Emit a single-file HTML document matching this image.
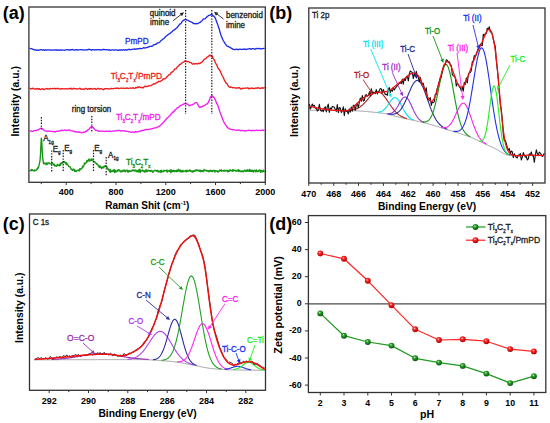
<!DOCTYPE html><html><head><meta charset="utf-8"><style>html,body{margin:0;padding:0;background:#fff;overflow:hidden}svg{display:block;font-family:"Liberation Sans",sans-serif}</style></head><body><svg width="550" height="423" viewBox="0 0 550 423"><rect width="550" height="423" fill="#fff"/>
<text x="2.8" y="18.8" font-size="18" font-weight="bold" fill="#000" text-anchor="start" >(a)</text>
<rect x="28.9" y="7" width="236.4" height="175.3" fill="none" stroke="#333333" stroke-width="1.3"/>
<line x1="41.3" y1="182.3" x2="41.3" y2="184.1" stroke="#333333" stroke-width="1"/>
<line x1="66.2" y1="182.3" x2="66.2" y2="185.1" stroke="#333333" stroke-width="1"/>
<text x="66.2" y="195.0" font-size="9" font-weight="bold" fill="#000" text-anchor="middle" >400</text>
<line x1="91.1" y1="182.3" x2="91.1" y2="184.1" stroke="#333333" stroke-width="1"/>
<line x1="116.0" y1="182.3" x2="116.0" y2="185.1" stroke="#333333" stroke-width="1"/>
<text x="116.0" y="195.0" font-size="9" font-weight="bold" fill="#000" text-anchor="middle" >800</text>
<line x1="140.9" y1="182.3" x2="140.9" y2="184.1" stroke="#333333" stroke-width="1"/>
<line x1="165.8" y1="182.3" x2="165.8" y2="185.1" stroke="#333333" stroke-width="1"/>
<text x="165.8" y="195.0" font-size="9" font-weight="bold" fill="#000" text-anchor="middle" >1200</text>
<line x1="190.6" y1="182.3" x2="190.6" y2="184.1" stroke="#333333" stroke-width="1"/>
<line x1="215.5" y1="182.3" x2="215.5" y2="185.1" stroke="#333333" stroke-width="1"/>
<text x="215.5" y="195.0" font-size="9" font-weight="bold" fill="#000" text-anchor="middle" >1600</text>
<line x1="240.4" y1="182.3" x2="240.4" y2="184.1" stroke="#333333" stroke-width="1"/>
<line x1="265.3" y1="182.3" x2="265.3" y2="185.1" stroke="#333333" stroke-width="1"/>
<text x="265.3" y="195.0" font-size="9" font-weight="bold" fill="#000" text-anchor="middle" >2000</text>
<text x="147.3" y="208.5" font-size="10" font-weight="bold" text-anchor="middle">Raman Shit (cm<tspan font-size="6" dy="-3.8">-1</tspan><tspan dy="3.8">)</tspan></text>
<text transform="translate(19.3,101.3) rotate(-90)" font-size="10.4" font-weight="bold" text-anchor="middle">Intensity (a.u.)</text>
<path d="M29.5,48.1 L30.1,48.4 L30.7,48.6 L31.3,48.7 L31.9,48.9 L32.5,49.0 L33.1,49.3 L33.7,49.8 L34.3,49.8 L34.9,49.7 L35.5,49.9 L36.1,50.2 L36.7,50.2 L37.3,50.0 L37.9,50.1 L38.5,50.3 L39.1,50.1 L39.7,49.9 L40.3,49.8 L40.9,49.7 L41.5,49.7 L42.1,49.9 L42.7,50.0 L43.3,50.0 L43.9,50.2 L44.5,50.2 L45.1,49.7 L45.7,49.7 L46.3,50.1 L46.9,50.2 L47.5,49.9 L48.1,49.8 L48.7,49.9 L49.3,49.8 L49.9,50.2 L50.5,50.1 L51.1,50.0 L51.7,50.2 L52.3,50.1 L52.9,50.0 L53.5,50.1 L54.1,50.1 L54.7,49.9 L55.3,49.9 L55.9,50.3 L56.5,50.0 L57.1,49.9 L57.7,50.2 L58.3,49.9 L58.9,50.2 L59.5,50.4 L60.1,49.9 L60.7,49.8 L61.3,50.1 L61.9,50.0 L62.5,50.1 L63.1,50.1 L63.7,50.1 L64.3,50.3 L64.9,50.1 L65.5,49.9 L66.1,49.9 L66.7,49.9 L67.3,49.7 L67.9,49.6 L68.5,49.8 L69.1,50.0 L69.7,50.2 L70.3,49.8 L70.9,49.5 L71.5,49.8 L72.1,49.6 L72.7,49.5 L73.3,49.8 L73.9,50.0 L74.5,50.1 L75.1,49.9 L75.7,49.7 L76.3,49.7 L76.9,50.0 L77.5,50.0 L78.1,49.7 L78.7,49.8 L79.3,49.8 L79.9,49.8 L80.5,49.6 L81.1,49.6 L81.7,49.7 L82.3,49.9 L82.9,50.1 L83.5,49.9 L84.1,49.9 L84.7,49.9 L85.3,49.9 L85.9,50.0 L86.5,49.9 L87.1,49.7 L87.7,49.7 L88.3,49.6 L88.9,49.2 L89.5,49.4 L90.1,49.6 L90.7,49.7 L91.3,50.2 L91.9,50.0 L92.5,49.6 L93.1,49.7 L93.7,49.9 L94.3,49.8 L94.9,49.7 L95.5,49.9 L96.1,50.0 L96.7,49.7 L97.3,49.6 L97.9,49.8 L98.5,49.6 L99.1,49.7 L99.7,49.7 L100.3,49.8 L100.9,50.0 L101.5,49.8 L102.1,49.7 L102.7,49.7 L103.3,49.5 L103.9,49.3 L104.5,49.7 L105.1,49.6 L105.7,49.7 L106.3,49.7 L106.9,49.7 L107.5,49.9 L108.1,49.9 L108.7,50.1 L109.3,49.7 L109.9,49.9 L110.5,50.4 L111.1,50.2 L111.7,49.9 L112.3,49.9 L112.9,49.8 L113.5,50.0 L114.1,50.1 L114.7,50.0 L115.3,49.9 L115.9,49.8 L116.5,49.8 L117.1,50.1 L117.7,50.3 L118.3,50.2 L118.9,50.2 L119.5,50.0 L120.1,49.9 L120.7,50.0 L121.3,50.0 L121.9,50.0 L122.5,50.0 L123.1,49.8 L123.7,49.7 L124.3,50.1 L124.9,50.1 L125.5,49.7 L126.1,49.8 L126.7,50.2 L127.3,49.8 L127.9,49.5 L128.5,49.6 L129.1,49.3 L129.7,49.5 L130.3,49.7 L130.9,49.6 L131.5,49.4 L132.1,49.4 L132.7,49.4 L133.3,49.2 L133.9,49.1 L134.5,48.8 L135.1,49.2 L135.7,49.2 L136.3,49.0 L136.9,49.0 L137.5,48.8 L138.1,48.6 L138.7,48.7 L139.3,48.7 L139.9,48.5 L140.5,48.5 L141.1,48.6 L141.7,48.6 L142.3,48.4 L142.9,48.1 L143.5,47.7 L144.1,47.9 L144.7,48.1 L145.3,47.8 L145.9,47.6 L146.5,47.6 L147.1,47.5 L147.7,47.4 L148.3,47.0 L148.9,46.9 L149.5,46.6 L150.1,46.3 L150.7,46.4 L151.3,46.2 L151.9,46.2 L152.5,46.1 L153.1,45.4 L153.7,44.7 L154.3,44.7 L154.9,44.6 L155.5,44.2 L156.1,44.3 L156.7,43.7 L157.3,43.0 L157.9,42.9 L158.5,42.9 L159.1,42.4 L159.7,42.0 L160.3,41.4 L160.9,40.7 L161.5,40.3 L162.1,39.8 L162.7,39.1 L163.3,38.8 L163.9,38.5 L164.5,37.9 L165.1,37.2 L165.7,36.5 L166.3,36.0 L166.9,35.4 L167.5,35.1 L168.1,34.6 L168.7,34.2 L169.3,33.9 L169.9,33.7 L170.5,32.9 L171.1,32.3 L171.7,32.0 L172.3,31.4 L172.9,30.8 L173.5,30.2 L174.1,30.1 L174.7,29.7 L175.3,29.1 L175.9,28.5 L176.5,28.2 L177.1,27.7 L177.7,26.7 L178.3,26.1 L178.9,25.5 L179.5,24.4 L180.1,23.8 L180.7,23.8 L181.3,23.1 L181.9,21.9 L182.5,21.0 L183.1,20.7 L183.7,20.4 L184.3,19.8 L184.9,19.5 L185.5,19.5 L186.1,19.7 L186.7,20.0 L187.3,20.2 L187.9,20.3 L188.5,20.7 L189.1,21.0 L189.7,21.4 L190.3,21.6 L190.9,21.7 L191.5,22.2 L192.1,22.3 L192.7,22.8 L193.3,23.5 L193.9,23.5 L194.5,23.6 L195.1,23.9 L195.7,23.5 L196.3,23.5 L196.9,23.9 L197.5,23.7 L198.1,23.3 L198.7,23.0 L199.3,22.7 L199.9,22.5 L200.5,22.1 L201.1,21.4 L201.7,21.0 L202.3,20.4 L202.9,19.6 L203.5,19.0 L204.1,18.9 L204.7,18.9 L205.3,18.4 L205.9,17.9 L206.5,17.3 L207.1,16.7 L207.7,16.2 L208.3,15.7 L208.9,15.4 L209.5,15.3 L210.1,15.1 L210.7,14.7 L211.3,14.4 L211.9,14.4 L212.5,15.0 L213.1,15.7 L213.7,16.1 L214.3,16.7 L214.9,17.4 L215.5,18.6 L216.1,20.3 L216.7,21.9 L217.3,23.4 L217.9,25.1 L218.5,27.0 L219.1,28.8 L219.7,30.9 L220.3,33.0 L220.9,35.0 L221.5,36.5 L222.1,37.8 L222.7,39.5 L223.3,40.6 L223.9,41.5 L224.5,42.7 L225.1,43.7 L225.7,44.4 L226.3,45.1 L226.9,46.0 L227.5,46.3 L228.1,46.4 L228.7,46.7 L229.3,47.1 L229.9,47.4 L230.5,47.5 L231.1,48.2 L231.7,48.5 L232.3,48.7 L232.9,49.3 L233.5,49.3 L234.1,49.3 L234.7,49.7 L235.3,49.6 L235.9,49.3 L236.5,49.1 L237.1,49.2 L237.7,49.6 L238.3,49.8 L238.9,49.4 L239.5,49.1 L240.1,49.1 L240.7,49.3 L241.3,49.3 L241.9,49.3 L242.5,49.4 L243.1,49.2 L243.7,49.2 L244.3,49.2 L244.9,49.2 L245.5,49.2 L246.1,49.5 L246.7,49.5 L247.3,49.2 L247.9,48.8 L248.5,48.8 L249.1,48.8 L249.7,48.5 L250.3,48.9 L250.9,49.2 L251.5,49.0 L252.1,48.6 L252.7,48.6 L253.3,48.7 L253.9,48.9 L254.5,49.3 L255.1,49.2 L255.7,48.7 L256.3,48.5 L256.9,48.6 L257.5,48.7 L258.1,48.5 L258.7,48.6 L259.3,48.5 L259.9,48.7 L260.5,49.0 L261.1,49.0 L261.7,48.7 L262.3,48.6 L262.9,48.6 L263.5,48.5 L264.1,48.4 L264.7,48.3" fill="none" stroke="#1f2ee6" stroke-width="1.35" stroke-linejoin="round" />
<path d="M29.5,88.2 L30.1,88.4 L30.7,88.8 L31.3,88.7 L31.9,89.0 L32.5,88.5 L33.1,88.1 L33.7,88.6 L34.3,89.0 L34.9,88.9 L35.5,89.0 L36.1,89.2 L36.7,88.7 L37.3,88.4 L37.9,88.9 L38.5,89.3 L39.1,88.6 L39.7,88.9 L40.3,89.5 L40.9,89.5 L41.5,89.2 L42.1,88.8 L42.7,88.6 L43.3,89.3 L43.9,89.6 L44.5,89.3 L45.1,89.2 L45.7,88.8 L46.3,88.6 L46.9,88.4 L47.5,89.1 L48.1,88.9 L48.7,88.9 L49.3,89.3 L49.9,88.7 L50.5,88.5 L51.1,88.6 L51.7,88.7 L52.3,88.7 L52.9,88.5 L53.5,88.6 L54.1,88.5 L54.7,88.3 L55.3,88.5 L55.9,89.0 L56.5,88.7 L57.1,88.4 L57.7,88.6 L58.3,88.4 L58.9,88.8 L59.5,88.9 L60.1,89.0 L60.7,89.0 L61.3,88.7 L61.9,88.8 L62.5,88.6 L63.1,88.8 L63.7,88.9 L64.3,88.9 L64.9,89.0 L65.5,88.6 L66.1,88.6 L66.7,88.8 L67.3,89.1 L67.9,88.9 L68.5,88.6 L69.1,88.5 L69.7,88.6 L70.3,88.8 L70.9,88.2 L71.5,88.5 L72.1,89.2 L72.7,88.8 L73.3,88.3 L73.9,88.5 L74.5,88.5 L75.1,88.8 L75.7,88.9 L76.3,88.6 L76.9,89.0 L77.5,88.9 L78.1,88.9 L78.7,88.9 L79.3,88.5 L79.9,88.2 L80.5,89.0 L81.1,89.4 L81.7,89.0 L82.3,89.1 L82.9,89.0 L83.5,89.1 L84.1,89.5 L84.7,89.2 L85.3,88.4 L85.9,88.4 L86.5,88.4 L87.1,88.9 L87.7,89.4 L88.3,89.0 L88.9,88.4 L89.5,88.6 L90.1,89.3 L90.7,88.6 L91.3,88.4 L91.9,88.9 L92.5,89.0 L93.1,89.0 L93.7,88.7 L94.3,88.6 L94.9,88.4 L95.5,89.1 L96.1,89.5 L96.7,89.1 L97.3,88.7 L97.9,88.3 L98.5,88.4 L99.1,88.9 L99.7,89.0 L100.3,89.0 L100.9,88.7 L101.5,88.7 L102.1,89.0 L102.7,89.3 L103.3,89.8 L103.9,89.4 L104.5,88.7 L105.1,88.7 L105.7,88.8 L106.3,88.6 L106.9,88.7 L107.5,88.6 L108.1,88.8 L108.7,89.0 L109.3,88.9 L109.9,88.9 L110.5,88.6 L111.1,88.4 L111.7,88.5 L112.3,88.6 L112.9,88.7 L113.5,88.8 L114.1,88.4 L114.7,88.4 L115.3,88.3 L115.9,88.2 L116.5,88.4 L117.1,88.0 L117.7,88.1 L118.3,88.6 L118.9,88.5 L119.5,88.4 L120.1,88.3 L120.7,88.1 L121.3,88.1 L121.9,88.2 L122.5,88.3 L123.1,88.1 L123.7,88.1 L124.3,88.4 L124.9,88.3 L125.5,88.2 L126.1,88.3 L126.7,88.0 L127.3,87.9 L127.9,88.4 L128.5,88.3 L129.1,88.3 L129.7,88.1 L130.3,87.9 L130.9,88.2 L131.5,88.3 L132.1,88.2 L132.7,87.7 L133.3,87.7 L133.9,88.4 L134.5,88.4 L135.1,88.2 L135.7,87.5 L136.3,87.6 L136.9,87.9 L137.5,87.0 L138.1,87.1 L138.7,87.3 L139.3,86.9 L139.9,87.0 L140.5,87.6 L141.1,87.6 L141.7,87.3 L142.3,87.7 L142.9,88.0 L143.5,87.4 L144.1,86.8 L144.7,86.4 L145.3,86.2 L145.9,86.5 L146.5,86.6 L147.1,86.4 L147.7,86.4 L148.3,86.0 L148.9,85.6 L149.5,85.8 L150.1,85.8 L150.7,85.7 L151.3,85.5 L151.9,85.0 L152.5,84.7 L153.1,84.4 L153.7,83.6 L154.3,83.8 L154.9,84.0 L155.5,83.6 L156.1,83.0 L156.7,82.5 L157.3,82.5 L157.9,82.1 L158.5,81.4 L159.1,81.2 L159.7,81.7 L160.3,81.6 L160.9,80.9 L161.5,80.4 L162.1,80.4 L162.7,79.4 L163.3,78.8 L163.9,79.1 L164.5,78.9 L165.1,78.7 L165.7,78.3 L166.3,77.5 L166.9,76.7 L167.5,76.3 L168.1,75.6 L168.7,74.8 L169.3,74.6 L169.9,74.6 L170.5,73.7 L171.1,72.7 L171.7,72.2 L172.3,72.0 L172.9,71.4 L173.5,70.9 L174.1,70.2 L174.7,69.2 L175.3,68.9 L175.9,68.7 L176.5,68.5 L177.1,67.4 L177.7,66.3 L178.3,66.2 L178.9,65.6 L179.5,64.5 L180.1,64.4 L180.7,64.3 L181.3,63.6 L181.9,62.9 L182.5,62.6 L183.1,62.3 L183.7,62.0 L184.3,61.5 L184.9,60.9 L185.5,61.1 L186.1,61.2 L186.7,61.4 L187.3,61.8 L187.9,61.6 L188.5,61.7 L189.1,62.0 L189.7,62.5 L190.3,62.6 L190.9,62.5 L191.5,63.1 L192.1,63.9 L192.7,64.2 L193.3,63.8 L193.9,63.5 L194.5,64.0 L195.1,64.0 L195.7,63.5 L196.3,63.6 L196.9,64.1 L197.5,63.9 L198.1,63.4 L198.7,63.2 L199.3,63.6 L199.9,63.5 L200.5,62.9 L201.1,62.6 L201.7,62.3 L202.3,61.5 L202.9,60.9 L203.5,60.2 L204.1,59.4 L204.7,58.9 L205.3,58.8 L205.9,58.6 L206.5,57.7 L207.1,57.1 L207.7,56.8 L208.3,56.6 L208.9,55.9 L209.5,55.1 L210.1,55.2 L210.7,55.9 L211.3,56.3 L211.9,56.1 L212.5,56.8 L213.1,58.3 L213.7,59.2 L214.3,59.9 L214.9,61.5 L215.5,63.0 L216.1,64.0 L216.7,64.8 L217.3,66.2 L217.9,67.9 L218.5,68.7 L219.1,69.5 L219.7,70.1 L220.3,71.2 L220.9,72.8 L221.5,74.0 L222.1,75.5 L222.7,76.6 L223.3,77.4 L223.9,78.9 L224.5,80.4 L225.1,81.4 L225.7,82.5 L226.3,83.3 L226.9,83.5 L227.5,84.5 L228.1,85.8 L228.7,86.3 L229.3,87.2 L229.9,87.4 L230.5,86.9 L231.1,87.0 L231.7,87.3 L232.3,87.6 L232.9,87.9 L233.5,87.6 L234.1,87.6 L234.7,87.8 L235.3,87.8 L235.9,88.1 L236.5,88.0 L237.1,88.0 L237.7,88.0 L238.3,87.9 L238.9,87.6 L239.5,87.7 L240.1,88.6 L240.7,89.1 L241.3,89.0 L241.9,88.7 L242.5,88.2 L243.1,88.4 L243.7,88.5 L244.3,88.2 L244.9,88.1 L245.5,88.2 L246.1,88.1 L246.7,88.1 L247.3,87.9 L247.9,87.8 L248.5,88.7 L249.1,88.7 L249.7,88.1 L250.3,88.3 L250.9,88.5 L251.5,88.1 L252.1,87.9 L252.7,88.4 L253.3,88.5 L253.9,88.3 L254.5,88.6 L255.1,88.4 L255.7,88.0 L256.3,88.0 L256.9,88.4 L257.5,88.0 L258.1,87.5 L258.7,87.8 L259.3,88.1 L259.9,88.4 L260.5,88.6 L261.1,88.0 L261.7,87.9 L262.3,88.2 L262.9,87.8 L263.5,88.0 L264.1,87.9 L264.7,87.3" fill="none" stroke="#ee1c1c" stroke-width="1.35" stroke-linejoin="round" />
<path d="M29.5,131.2 L30.1,131.0 L30.7,130.9 L31.3,131.2 L31.9,131.3 L32.5,131.4 L33.1,131.3 L33.7,130.7 L34.3,130.6 L34.9,130.6 L35.5,130.4 L36.1,130.5 L36.7,130.5 L37.3,130.0 L37.9,129.9 L38.5,129.8 L39.1,129.3 L39.7,128.8 L40.3,128.5 L40.9,128.2 L41.5,128.2 L42.1,128.5 L42.7,129.0 L43.3,129.7 L43.9,130.1 L44.5,130.5 L45.1,130.9 L45.7,131.1 L46.3,131.0 L46.9,131.2 L47.5,131.5 L48.1,131.1 L48.7,130.9 L49.3,131.0 L49.9,131.3 L50.5,131.3 L51.1,131.3 L51.7,131.4 L52.3,131.5 L52.9,131.5 L53.5,131.4 L54.1,131.6 L54.7,132.1 L55.3,131.7 L55.9,131.3 L56.5,131.2 L57.1,131.4 L57.7,131.3 L58.3,131.0 L58.9,131.1 L59.5,131.0 L60.1,130.7 L60.7,130.7 L61.3,130.4 L61.9,130.2 L62.5,130.4 L63.1,130.5 L63.7,130.5 L64.3,130.1 L64.9,130.0 L65.5,130.3 L66.1,130.5 L66.7,130.3 L67.3,130.1 L67.9,130.2 L68.5,130.2 L69.1,130.0 L69.7,130.0 L70.3,130.5 L70.9,130.8 L71.5,130.9 L72.1,130.9 L72.7,131.0 L73.3,131.1 L73.9,131.1 L74.5,131.7 L75.1,132.0 L75.7,131.7 L76.3,131.7 L76.9,131.9 L77.5,132.3 L78.1,132.2 L78.7,131.9 L79.3,132.0 L79.9,132.4 L80.5,132.5 L81.1,132.7 L81.7,132.8 L82.3,132.6 L82.9,132.3 L83.5,132.2 L84.1,132.5 L84.7,132.2 L85.3,131.6 L85.9,131.2 L86.5,131.2 L87.1,130.6 L87.7,130.0 L88.3,129.8 L88.9,129.4 L89.5,128.6 L90.1,127.8 L90.7,127.2 L91.3,126.7 L91.9,126.6 L92.5,126.7 L93.1,127.3 L93.7,128.3 L94.3,129.0 L94.9,129.6 L95.5,130.4 L96.1,130.4 L96.7,130.4 L97.3,130.5 L97.9,130.7 L98.5,131.3 L99.1,131.5 L99.7,131.2 L100.3,131.0 L100.9,131.1 L101.5,131.1 L102.1,131.3 L102.7,131.1 L103.3,131.1 L103.9,131.3 L104.5,131.4 L105.1,131.5 L105.7,131.2 L106.3,131.2 L106.9,131.4 L107.5,131.4 L108.1,131.4 L108.7,131.3 L109.3,130.9 L109.9,131.1 L110.5,131.5 L111.1,131.4 L111.7,131.3 L112.3,131.4 L112.9,131.2 L113.5,130.9 L114.1,130.9 L114.7,131.1 L115.3,130.9 L115.9,130.8 L116.5,130.9 L117.1,130.4 L117.7,130.7 L118.3,130.8 L118.9,130.4 L119.5,130.3 L120.1,130.7 L120.7,131.0 L121.3,130.8 L121.9,130.7 L122.5,130.9 L123.1,130.8 L123.7,130.9 L124.3,131.0 L124.9,131.0 L125.5,131.0 L126.1,131.2 L126.7,131.3 L127.3,131.3 L127.9,131.3 L128.5,131.7 L129.1,131.9 L129.7,131.9 L130.3,132.1 L130.9,132.1 L131.5,132.4 L132.1,132.2 L132.7,132.0 L133.3,132.1 L133.9,132.2 L134.5,132.5 L135.1,131.9 L135.7,131.4 L136.3,131.8 L136.9,132.0 L137.5,131.9 L138.1,131.6 L138.7,131.5 L139.3,131.5 L139.9,131.2 L140.5,131.2 L141.1,130.7 L141.7,130.5 L142.3,130.5 L142.9,130.4 L143.5,130.4 L144.1,130.0 L144.7,130.0 L145.3,129.9 L145.9,129.5 L146.5,129.3 L147.1,129.4 L147.7,129.6 L148.3,129.6 L148.9,129.4 L149.5,129.3 L150.1,129.2 L150.7,128.9 L151.3,128.9 L151.9,129.0 L152.5,128.7 L153.1,128.4 L153.7,128.2 L154.3,128.1 L154.9,127.8 L155.5,127.8 L156.1,127.7 L156.7,127.4 L157.3,127.1 L157.9,126.8 L158.5,126.7 L159.1,126.2 L159.7,126.0 L160.3,125.6 L160.9,125.1 L161.5,124.6 L162.1,123.7 L162.7,122.9 L163.3,122.4 L163.9,121.9 L164.5,121.2 L165.1,120.5 L165.7,119.5 L166.3,118.9 L166.9,118.2 L167.5,117.7 L168.1,117.3 L168.7,116.6 L169.3,116.1 L169.9,115.7 L170.5,114.9 L171.1,113.9 L171.7,113.4 L172.3,112.7 L172.9,112.0 L173.5,112.0 L174.1,111.3 L174.7,110.5 L175.3,109.8 L175.9,109.2 L176.5,108.7 L177.1,108.1 L177.7,107.7 L178.3,107.5 L178.9,107.0 L179.5,106.3 L180.1,105.7 L180.7,105.4 L181.3,105.3 L181.9,105.0 L182.5,104.7 L183.1,104.6 L183.7,104.0 L184.3,103.5 L184.9,103.8 L185.5,103.8 L186.1,103.6 L186.7,103.8 L187.3,104.0 L187.9,104.3 L188.5,105.2 L189.1,105.7 L189.7,105.3 L190.3,105.1 L190.9,105.1 L191.5,105.2 L192.1,104.9 L192.7,104.3 L193.3,104.2 L193.9,104.1 L194.5,103.6 L195.1,103.0 L195.7,102.6 L196.3,102.7 L196.9,102.9 L197.5,104.0 L198.1,105.2 L198.7,106.1 L199.3,107.2 L199.9,107.5 L200.5,107.0 L201.1,106.8 L201.7,107.1 L202.3,106.6 L202.9,106.1 L203.5,106.0 L204.1,105.6 L204.7,105.5 L205.3,105.0 L205.9,104.3 L206.5,104.2 L207.1,104.0 L207.7,103.3 L208.3,102.3 L208.9,100.9 L209.5,99.7 L210.1,98.0 L210.7,96.7 L211.3,96.2 L211.9,95.8 L212.5,96.1 L213.1,96.3 L213.7,96.9 L214.3,98.0 L214.9,99.2 L215.5,100.2 L216.1,101.7 L216.7,103.5 L217.3,104.2 L217.9,105.3 L218.5,107.6 L219.1,109.6 L219.7,111.2 L220.3,113.0 L220.9,114.6 L221.5,116.2 L222.1,117.7 L222.7,119.3 L223.3,120.8 L223.9,122.0 L224.5,123.1 L225.1,124.2 L225.7,125.1 L226.3,125.8 L226.9,126.8 L227.5,127.5 L228.1,128.0 L228.7,128.5 L229.3,128.8 L229.9,129.0 L230.5,129.1 L231.1,129.4 L231.7,129.4 L232.3,129.6 L232.9,129.9 L233.5,129.7 L234.1,129.8 L234.7,129.9 L235.3,130.1 L235.9,130.1 L236.5,130.4 L237.1,130.4 L237.7,129.9 L238.3,130.0 L238.9,130.1 L239.5,130.2 L240.1,130.7 L240.7,130.8 L241.3,130.4 L241.9,130.2 L242.5,130.7 L243.1,130.8 L243.7,130.6 L244.3,130.7 L244.9,131.0 L245.5,131.1 L246.1,130.7 L246.7,130.6 L247.3,130.7 L247.9,130.5 L248.5,130.2 L249.1,130.3 L249.7,130.4 L250.3,130.3 L250.9,130.5 L251.5,130.9 L252.1,130.7 L252.7,130.3 L253.3,130.5 L253.9,130.5 L254.5,130.7 L255.1,130.6 L255.7,130.3 L256.3,130.1 L256.9,130.1 L257.5,130.4 L258.1,130.6 L258.7,130.3 L259.3,130.3 L259.9,130.4 L260.5,130.6 L261.1,130.5 L261.7,130.4 L262.3,130.2 L262.9,130.0 L263.5,130.6 L264.1,130.4 L264.7,130.1" fill="none" stroke="#f01ef0" stroke-width="1.35" stroke-linejoin="round" />
<path d="M29.3,170.9 L29.7,170.5 L30.1,170.2 L30.5,170.6 L30.9,170.7 L31.3,170.6 L31.7,169.5 L32.1,170.5 L32.5,170.0 L32.9,170.2 L33.3,170.6 L33.7,170.8 L34.1,170.9 L34.5,169.9 L34.9,170.7 L35.3,170.7 L35.7,170.6 L36.1,170.6 L36.5,169.4 L36.9,169.2 L37.3,169.4 L37.7,167.7 L38.1,168.2 L38.5,167.0 L38.9,166.1 L39.3,163.9 L39.7,162.3 L40.1,159.4 L40.5,154.2 L40.9,145.9 L41.3,138.1 L41.7,140.5 L42.1,148.4 L42.5,155.8 L42.9,159.3 L43.3,162.0 L43.7,163.9 L44.1,163.6 L44.5,163.0 L44.9,163.6 L45.3,163.3 L45.7,163.4 L46.1,164.8 L46.5,164.0 L46.9,162.8 L47.3,163.9 L47.7,164.2 L48.1,163.1 L48.5,162.8 L48.9,162.9 L49.3,163.2 L49.7,163.4 L50.1,163.8 L50.5,163.8 L50.9,163.9 L51.3,164.1 L51.7,163.8 L52.1,162.7 L52.5,163.7 L52.9,164.2 L53.3,164.0 L53.7,165.0 L54.1,164.5 L54.5,164.3 L54.9,166.0 L55.3,165.7 L55.7,165.6 L56.1,166.1 L56.5,166.3 L56.9,165.9 L57.3,164.3 L57.7,165.3 L58.1,165.3 L58.5,164.9 L58.9,165.4 L59.3,165.8 L59.7,164.5 L60.1,163.8 L60.5,165.4 L60.9,163.6 L61.3,162.8 L61.7,163.4 L62.1,163.2 L62.5,162.3 L62.9,162.9 L63.3,162.0 L63.7,161.6 L64.1,162.2 L64.5,162.6 L64.9,161.8 L65.3,162.6 L65.7,162.5 L66.1,164.5 L66.5,162.8 L66.9,164.4 L67.3,164.0 L67.7,164.4 L68.1,165.4 L68.5,166.0 L68.9,166.7 L69.3,166.6 L69.7,166.5 L70.1,167.0 L70.5,168.1 L70.9,168.6 L71.3,169.4 L71.7,169.2 L72.1,169.9 L72.5,170.4 L72.9,169.8 L73.3,169.0 L73.7,169.4 L74.1,169.4 L74.5,171.3 L74.9,169.9 L75.3,171.3 L75.7,170.9 L76.1,171.6 L76.5,171.2 L76.9,170.5 L77.3,170.4 L77.7,170.6 L78.1,170.5 L78.5,170.0 L78.9,170.2 L79.3,171.0 L79.7,168.8 L80.1,169.8 L80.5,168.8 L80.9,169.1 L81.3,169.1 L81.7,168.2 L82.1,168.2 L82.5,166.3 L82.9,167.4 L83.3,165.8 L83.7,166.0 L84.1,165.2 L84.5,162.9 L84.9,163.4 L85.3,163.4 L85.7,163.7 L86.1,162.4 L86.5,161.9 L86.9,160.5 L87.3,161.8 L87.7,161.7 L88.1,160.3 L88.5,159.9 L88.9,158.9 L89.3,160.2 L89.7,161.2 L90.1,159.9 L90.5,160.2 L90.9,159.8 L91.3,158.9 L91.7,160.4 L92.1,159.1 L92.5,159.9 L92.9,160.5 L93.3,161.2 L93.7,161.4 L94.1,161.8 L94.5,161.6 L94.9,161.8 L95.3,163.1 L95.7,163.1 L96.1,163.2 L96.5,163.6 L96.9,164.5 L97.3,164.0 L97.7,164.7 L98.1,164.8 L98.5,166.1 L98.9,166.4 L99.3,167.6 L99.7,165.7 L100.1,166.4 L100.5,167.5 L100.9,167.0 L101.3,167.1 L101.7,168.6 L102.1,167.5 L102.5,167.1 L102.9,167.0 L103.3,167.9 L103.7,167.6 L104.1,166.2 L104.5,166.0 L104.9,166.5 L105.3,166.3 L105.7,165.6 L106.1,166.7 L106.5,167.2 L106.9,166.6 L107.3,168.2 L107.7,169.4 L108.1,169.4 L108.5,168.9 L108.9,170.3 L109.3,171.1 L109.7,171.7 L110.1,169.5 L110.5,172.4 L110.9,170.2 L111.3,171.4 L111.7,171.6 L112.1,171.5 L112.5,171.0 L112.9,170.2 L113.3,171.3 L113.7,170.5 L114.1,169.4 L114.5,172.6 L114.9,171.3 L115.3,172.0 L115.7,170.3 L116.1,171.8 L116.5,171.8 L116.9,171.8 L117.3,170.9 L117.7,170.2 L118.1,170.8 L118.5,169.6 L118.9,169.9 L119.3,171.0 L119.7,170.3 L120.1,170.8 L120.5,170.8 L120.9,172.1 L121.3,171.7 L121.7,170.9 L122.1,171.6 L122.5,170.4 L122.9,170.7 L123.3,171.4 L123.7,170.2 L124.1,170.7 L124.5,170.1 L124.9,171.0 L125.3,171.9 L125.7,170.4 L126.1,171.0 L126.5,170.4 L126.9,170.2 L127.3,170.2 L127.7,171.8 L128.1,172.3 L128.5,171.2 L128.9,170.5 L129.3,171.3 L129.7,170.7 L130.1,171.4 L130.5,171.1 L130.9,171.1 L131.3,171.3 L131.7,170.5 L132.1,170.7 L132.5,169.9 L132.9,170.6 L133.3,170.0 L133.7,170.8 L134.1,170.3 L134.5,171.0 L134.9,171.2 L135.3,170.0 L135.7,170.4 L136.1,170.3 L136.5,171.3 L136.9,171.9 L137.3,171.4 L137.7,170.7 L138.1,171.8 L138.5,170.0 L138.9,171.8 L139.3,170.5 L139.7,169.2 L140.1,172.5 L140.5,171.8 L140.9,170.3 L141.3,171.0 L141.7,170.8 L142.1,171.0 L142.5,170.0 L142.9,170.5 L143.3,171.2 L143.7,171.0 L144.1,171.6 L144.5,170.9 L144.9,172.3 L145.3,170.5 L145.7,171.1 L146.1,169.7 L146.5,170.1 L146.9,171.7 L147.3,170.3 L147.7,171.2 L148.1,170.9 L148.5,170.3 L148.9,170.7 L149.3,170.6 L149.7,170.6 L150.1,171.4 L150.5,171.3 L150.9,170.6 L151.3,170.4 L151.7,171.1 L152.1,170.8 L152.5,171.5 L152.9,172.5 L153.3,171.4 L153.7,170.9 L154.1,170.8 L154.5,170.4 L154.9,170.4 L155.3,170.3 L155.7,170.7 L156.1,170.6 L156.5,171.3 L156.9,170.7 L157.3,170.8 L157.7,170.2 L158.1,171.9 L158.5,171.2 L158.9,172.0 L159.3,171.4 L159.7,171.8 L160.1,170.7 L160.5,171.3 L160.9,172.5 L161.3,170.2 L161.7,171.6 L162.1,171.9 L162.5,171.2 L162.9,171.4 L163.3,171.7 L163.7,170.5 L164.1,171.1 L164.5,170.4 L164.9,170.5 L165.3,170.5 L165.7,170.8 L166.1,171.0 L166.5,171.2 L166.9,170.0 L167.3,172.1 L167.7,171.6 L168.1,171.3 L168.5,170.7 L168.9,170.8 L169.3,171.2 L169.7,171.2 L170.1,169.9 L170.5,171.4 L170.9,172.7 L171.3,169.8 L171.7,171.5 L172.1,171.1 L172.5,170.8 L172.9,171.7 L173.3,170.2 L173.7,171.0 L174.1,171.8 L174.5,170.8 L174.9,170.6 L175.3,171.0 L175.7,170.6 L176.1,171.9 L176.5,170.3 L176.9,171.4 L177.3,170.1 L177.7,171.3 L178.1,170.8 L178.5,169.3 L178.9,170.9 L179.3,170.2 L179.7,170.6 L180.1,171.8 L180.5,170.2 L180.9,170.2 L181.3,171.8 L181.7,171.0 L182.1,171.8 L182.5,171.1 L182.9,170.4 L183.3,170.9 L183.7,171.7 L184.1,171.5 L184.5,170.9 L184.9,170.9 L185.3,170.8 L185.7,170.5 L186.1,172.1 L186.5,170.9 L186.9,170.2 L187.3,170.6 L187.7,171.3 L188.1,171.3 L188.5,170.8 L188.9,170.5 L189.3,170.9 L189.7,169.9 L190.1,170.1 L190.5,171.4 L190.9,170.6 L191.3,171.1 L191.7,171.7 L192.1,171.3 L192.5,170.9 L192.9,172.2 L193.3,171.3 L193.7,170.7 L194.1,171.4 L194.5,171.2 L194.9,170.4 L195.3,170.9 L195.7,170.8 L196.1,169.7 L196.5,170.8 L196.9,170.7 L197.3,170.6 L197.7,169.9 L198.1,170.7 L198.5,170.9 L198.9,171.0 L199.3,170.2 L199.7,171.3 L200.1,170.1 L200.5,170.8 L200.9,171.7 L201.3,170.5 L201.7,170.6 L202.1,171.6 L202.5,170.7 L202.9,170.7 L203.3,171.0 L203.7,171.5 L204.1,169.5 L204.5,170.4 L204.9,170.3 L205.3,170.2 L205.7,170.4 L206.1,170.4 L206.5,171.1 L206.9,170.4 L207.3,171.0 L207.7,171.1 L208.1,170.5 L208.5,171.0 L208.9,171.9 L209.3,171.1 L209.7,170.5 L210.1,170.9 L210.5,170.3 L210.9,171.1 L211.3,171.4 L211.7,170.4 L212.1,170.8 L212.5,171.6 L212.9,170.6 L213.3,171.0 L213.7,170.3 L214.1,170.4 L214.5,170.6 L214.9,172.2 L215.3,170.7 L215.7,170.6 L216.1,170.6 L216.5,170.8 L216.9,171.3 L217.3,171.0 L217.7,172.1 L218.1,171.0 L218.5,171.8 L218.9,171.1 L219.3,171.3 L219.7,170.0 L220.1,170.8 L220.5,170.9 L220.9,170.8 L221.3,169.6 L221.7,171.4 L222.1,170.7 L222.5,170.6 L222.9,170.7 L223.3,170.8 L223.7,171.1 L224.1,170.1 L224.5,170.3 L224.9,171.1 L225.3,171.0 L225.7,170.7 L226.1,170.6 L226.5,170.4 L226.9,170.9 L227.3,171.6 L227.7,170.3 L228.1,171.8 L228.5,171.4 L228.9,170.6 L229.3,171.4 L229.7,170.0 L230.1,169.9 L230.5,170.1 L230.9,170.7 L231.3,170.7 L231.7,170.6 L232.1,171.0 L232.5,169.6 L232.9,171.2 L233.3,170.0 L233.7,170.5 L234.1,170.7 L234.5,170.2 L234.9,170.1 L235.3,170.3 L235.7,170.9 L236.1,171.3 L236.5,171.2 L236.9,170.3 L237.3,170.4 L237.7,170.3 L238.1,171.2 L238.5,169.7 L238.9,171.6 L239.3,170.6 L239.7,170.4 L240.1,171.1 L240.5,171.5 L240.9,171.1 L241.3,171.5 L241.7,171.0 L242.1,171.6 L242.5,171.6 L242.9,170.8 L243.3,171.8 L243.7,171.0 L244.1,171.0 L244.5,170.3 L244.9,170.7 L245.3,171.4 L245.7,170.1 L246.1,171.3 L246.5,171.1 L246.9,171.1 L247.3,169.6 L247.7,170.8 L248.1,171.3 L248.5,170.4 L248.9,171.0 L249.3,169.5 L249.7,171.3 L250.1,170.5 L250.5,171.4 L250.9,169.8 L251.3,171.3 L251.7,170.8 L252.1,171.4 L252.5,170.3 L252.9,170.5 L253.3,172.2 L253.7,170.4 L254.1,170.5 L254.5,170.7 L254.9,170.3 L255.3,171.6 L255.7,171.9 L256.1,170.5 L256.5,169.9 L256.9,171.6 L257.3,171.6 L257.7,171.4 L258.1,171.6 L258.5,170.4 L258.9,170.8 L259.3,170.1 L259.7,170.0 L260.1,171.5 L260.5,170.5 L260.9,172.3 L261.3,170.9 L261.7,170.5 L262.1,171.4 L262.5,172.0 L262.9,171.2 L263.3,170.2 L263.7,171.1 L264.1,171.7 L264.5,170.6" fill="none" stroke="#159615" stroke-width="1.35" stroke-linejoin="round" />
<line x1="185.6" y1="10" x2="185.6" y2="114" stroke="#1a1a1a" stroke-width="1.2" stroke-dasharray="1.4,1.4"/>
<line x1="211.8" y1="10" x2="211.8" y2="114" stroke="#1a1a1a" stroke-width="1.2" stroke-dasharray="1.4,1.4"/>
<line x1="41.4" y1="117" x2="41.4" y2="131" stroke="#1a1a1a" stroke-width="1.2" stroke-dasharray="1.4,1.4"/>
<line x1="91.8" y1="116" x2="91.8" y2="131.5" stroke="#1a1a1a" stroke-width="1.2" stroke-dasharray="1.4,1.4"/>
<line x1="51.7" y1="150.4" x2="51.7" y2="171.6" stroke="#1a1a1a" stroke-width="1.2" stroke-dasharray="1.4,1.4"/>
<line x1="63.2" y1="150" x2="63.2" y2="172" stroke="#1a1a1a" stroke-width="1.2" stroke-dasharray="1.4,1.4"/>
<line x1="93.5" y1="150" x2="93.5" y2="172" stroke="#1a1a1a" stroke-width="1.2" stroke-dasharray="1.4,1.4"/>
<line x1="106.2" y1="157" x2="106.2" y2="176.5" stroke="#1a1a1a" stroke-width="1.2" stroke-dasharray="1.4,1.4"/>
<text x="149.8" y="16.2" font-size="8" font-weight="normal" fill="#222" text-anchor="start" stroke="#222" stroke-width="0.3" transform="translate(0 -1.13) scale(1 1.07)" >quinoid</text>
<text x="150.1" y="25.2" font-size="8" font-weight="normal" fill="#222" text-anchor="start" stroke="#222" stroke-width="0.3" transform="translate(0 -1.76) scale(1 1.07)" >imine</text>
<line x1="173.1" y1="20.7" x2="181.6" y2="14.1" stroke="#222" stroke-width="0.9"/>
<path d="M184.0,12.3 L182.0,16.2 L179.7,13.2 Z" fill="#222"/>
<text x="226" y="18.5" font-size="8" font-weight="normal" fill="#222" text-anchor="start" stroke="#222" stroke-width="0.3" transform="translate(0 -1.30) scale(1 1.07)" >benzenoid</text>
<text x="226" y="27.6" font-size="8" font-weight="normal" fill="#222" text-anchor="start" stroke="#222" stroke-width="0.3" transform="translate(0 -1.93) scale(1 1.07)" >imine</text>
<line x1="223.5" y1="19.0" x2="216.4" y2="13.6" stroke="#222" stroke-width="0.9"/>
<path d="M214.0,11.8 L218.3,12.7 L216.0,15.7 Z" fill="#222"/>
<text x="125" y="43.8" font-size="8.2" font-weight="normal" fill="#1f2ee6" text-anchor="start" stroke="#1f2ee6" stroke-width="0.3" transform="translate(0 -3.07) scale(1 1.07)" >PmPD</text>
<text x="110.8" y="79.2" font-size="8.4" font-weight="normal" fill="#ee1c1c" stroke="#ee1c1c" stroke-width="0.3" text-anchor="start" transform="translate(0 -5.54) scale(1 1.07)" ><tspan dy="0.00">Ti</tspan><tspan font-size="4.3" dy="3.00">3</tspan><tspan dy="-3.00">C</tspan><tspan font-size="4.3" dy="3.00">2</tspan><tspan dy="-3.00">T</tspan><tspan font-size="4.3" dy="3.00">x</tspan><tspan dy="-3.00">/PmPD</tspan></text>
<text x="115.9" y="120" font-size="8.2" font-weight="normal" fill="#f01ef0" stroke="#f01ef0" stroke-width="0.3" text-anchor="start" transform="translate(0 -8.40) scale(1 1.07)" ><tspan dy="0.00">Ti</tspan><tspan font-size="4.3" dy="3.00">3</tspan><tspan dy="-3.00">C</tspan><tspan font-size="4.3" dy="3.00">2</tspan><tspan dy="-3.00">T</tspan><tspan font-size="4.3" dy="3.00">x</tspan><tspan dy="-3.00">/mPD</tspan></text>
<text x="126" y="165" font-size="8.2" font-weight="normal" fill="#138a13" stroke="#138a13" stroke-width="0.3" text-anchor="start" transform="translate(0 -11.55) scale(1 1.07)" ><tspan dy="0.00">Ti</tspan><tspan font-size="4.3" dy="3.00">3</tspan><tspan dy="-3.00">C</tspan><tspan font-size="4.3" dy="3.00">2</tspan><tspan dy="-3.00">T</tspan><tspan font-size="4.3" dy="3.00">x</tspan></text>
<text x="71.8" y="112.5" font-size="8" font-weight="normal" fill="#222" text-anchor="start" stroke="#222" stroke-width="0.3" transform="translate(0 -7.88) scale(1 1.07)" >ring torsion</text>
<text x="43.3" y="141.4" font-size="8" fill="#222" stroke="#222" stroke-width="0.3" transform="translate(0 -9.90) scale(1 1.07)">A<tspan font-size="4.6" dy="2">1g</tspan></text>
<text x="52.8" y="152" font-size="8" fill="#222" stroke="#222" stroke-width="0.3" transform="translate(0 -10.64) scale(1 1.07)">E<tspan font-size="4.6" dy="2">g</tspan></text>
<text x="64.2" y="151.3" font-size="8" fill="#222" stroke="#222" stroke-width="0.3" transform="translate(0 -10.59) scale(1 1.07)">E<tspan font-size="4.6" dy="2">g</tspan></text>
<text x="94.2" y="151" font-size="8" fill="#222" stroke="#222" stroke-width="0.3" transform="translate(0 -10.57) scale(1 1.07)">E<tspan font-size="4.6" dy="2">g</tspan></text>
<text x="108.1" y="157.7" font-size="8" fill="#222" stroke="#222" stroke-width="0.3" transform="translate(0 -11.04) scale(1 1.07)">A<tspan font-size="4.6" dy="2">1g</tspan></text>
<text x="269.3" y="18.8" font-size="18" font-weight="bold" fill="#000" text-anchor="start" >(b)</text>
<rect x="308.8" y="8" width="236.2" height="175.0" fill="none" stroke="#333333" stroke-width="1.3"/>
<line x1="308.8" y1="183" x2="308.8" y2="185.8" stroke="#333333" stroke-width="1"/>
<text x="308.8" y="197" font-size="9" font-weight="bold" fill="#000" text-anchor="middle" >470</text>
<line x1="321.2" y1="183" x2="321.2" y2="184.8" stroke="#333333" stroke-width="1"/>
<line x1="333.7" y1="183" x2="333.7" y2="185.8" stroke="#333333" stroke-width="1"/>
<text x="333.7" y="197" font-size="9" font-weight="bold" fill="#000" text-anchor="middle" >468</text>
<line x1="346.1" y1="183" x2="346.1" y2="184.8" stroke="#333333" stroke-width="1"/>
<line x1="358.5" y1="183" x2="358.5" y2="185.8" stroke="#333333" stroke-width="1"/>
<text x="358.5" y="197" font-size="9" font-weight="bold" fill="#000" text-anchor="middle" >466</text>
<line x1="371.0" y1="183" x2="371.0" y2="184.8" stroke="#333333" stroke-width="1"/>
<line x1="383.4" y1="183" x2="383.4" y2="185.8" stroke="#333333" stroke-width="1"/>
<text x="383.4" y="197" font-size="9" font-weight="bold" fill="#000" text-anchor="middle" >464</text>
<line x1="395.8" y1="183" x2="395.8" y2="184.8" stroke="#333333" stroke-width="1"/>
<line x1="408.3" y1="183" x2="408.3" y2="185.8" stroke="#333333" stroke-width="1"/>
<text x="408.3" y="197" font-size="9" font-weight="bold" fill="#000" text-anchor="middle" >462</text>
<line x1="420.7" y1="183" x2="420.7" y2="184.8" stroke="#333333" stroke-width="1"/>
<line x1="433.1" y1="183" x2="433.1" y2="185.8" stroke="#333333" stroke-width="1"/>
<text x="433.1" y="197" font-size="9" font-weight="bold" fill="#000" text-anchor="middle" >460</text>
<line x1="445.5" y1="183" x2="445.5" y2="184.8" stroke="#333333" stroke-width="1"/>
<line x1="458.0" y1="183" x2="458.0" y2="185.8" stroke="#333333" stroke-width="1"/>
<text x="458.0" y="197" font-size="9" font-weight="bold" fill="#000" text-anchor="middle" >458</text>
<line x1="470.4" y1="183" x2="470.4" y2="184.8" stroke="#333333" stroke-width="1"/>
<line x1="482.8" y1="183" x2="482.8" y2="185.8" stroke="#333333" stroke-width="1"/>
<text x="482.8" y="197" font-size="9" font-weight="bold" fill="#000" text-anchor="middle" >456</text>
<line x1="495.3" y1="183" x2="495.3" y2="184.8" stroke="#333333" stroke-width="1"/>
<line x1="507.7" y1="183" x2="507.7" y2="185.8" stroke="#333333" stroke-width="1"/>
<text x="507.7" y="197" font-size="9" font-weight="bold" fill="#000" text-anchor="middle" >454</text>
<line x1="520.1" y1="183" x2="520.1" y2="184.8" stroke="#333333" stroke-width="1"/>
<line x1="532.6" y1="183" x2="532.6" y2="185.8" stroke="#333333" stroke-width="1"/>
<text x="532.6" y="197" font-size="9" font-weight="bold" fill="#000" text-anchor="middle" >452</text>
<text x="312" y="18.5" font-size="8" font-weight="normal" fill="#222" text-anchor="start" stroke="#222" stroke-width="0.3" transform="translate(0 -1.30) scale(1 1.07)" >Ti 2p</text>
<text x="427.1" y="209.6" font-size="10.3" font-weight="bold" fill="#000" text-anchor="middle" >Binding Energy (eV)</text>
<text transform="translate(298.3,101.3) rotate(-90)" font-size="10.5" font-weight="bold" text-anchor="middle">Intensity (a.u.)</text>
<path d="M309.3,110.3 L309.8,110.3 L310.3,110.3 L310.8,110.3 L311.3,110.3 L311.8,110.3 L312.3,110.3 L312.8,110.3 L313.3,110.3 L313.8,110.3 L314.3,110.3 L314.8,110.3 L315.3,110.3 L315.8,110.3 L316.3,110.3 L316.8,110.3 L317.3,110.3 L317.8,110.3 L318.3,110.3 L318.8,110.3 L319.3,110.3 L319.8,110.3 L320.3,110.3 L320.8,110.3 L321.3,110.3 L321.8,110.3 L322.3,110.3 L322.8,110.4 L323.3,110.4 L323.8,110.4 L324.3,110.4 L324.8,110.4 L325.3,110.4 L325.8,110.4 L326.3,110.4 L326.8,110.4 L327.3,110.4 L327.8,110.4 L328.3,110.4 L328.8,110.4 L329.3,110.4 L329.8,110.4 L330.3,110.4 L330.8,110.4 L331.3,110.4 L331.8,110.4 L332.3,110.4 L332.8,110.4 L333.3,110.4 L333.8,110.4 L334.3,110.4 L334.8,110.4 L335.3,110.4 L335.8,110.4 L336.3,110.5 L336.8,110.5 L337.3,110.5 L337.8,110.5 L338.3,110.5 L338.8,110.5 L339.3,110.5 L339.8,110.5 L340.3,110.5 L340.8,110.5 L341.3,110.5 L341.8,110.5 L342.3,110.5 L342.8,110.5 L343.3,110.5 L343.8,110.5 L344.3,110.6 L344.8,110.6 L345.3,110.6 L345.8,110.6 L346.3,110.6 L346.8,110.6 L347.3,110.6 L347.8,110.6 L348.3,110.6 L348.8,110.6 L349.3,110.6 L349.8,110.7 L350.3,110.7 L350.8,110.7 L351.3,110.7 L351.8,110.7 L352.3,110.7 L352.8,110.7 L353.3,110.7 L353.8,110.7 L354.3,110.8 L354.8,110.8 L355.3,110.8 L355.8,110.8 L356.3,110.8 L356.8,110.9 L357.3,110.9 L357.8,110.9 L358.3,110.9 L358.8,111.0 L359.3,111.0 L359.8,111.0 L360.3,111.1 L360.8,111.1 L361.3,111.1 L361.8,111.2 L362.3,111.2 L362.8,111.2 L363.3,111.3 L363.8,111.3 L364.3,111.3 L364.8,111.4 L365.3,111.4 L365.8,111.5 L366.3,111.5 L366.8,111.5 L367.3,111.6 L367.8,111.6 L368.3,111.7 L368.8,111.7 L369.3,111.8 L369.8,111.8 L370.3,111.9 L370.8,111.9 L371.3,112.0 L371.8,112.0 L372.3,112.1 L372.8,112.1 L373.3,112.2 L373.8,112.2 L374.3,112.3 L374.8,112.3 L375.3,112.4 L375.8,112.4 L376.3,112.5 L376.8,112.6 L377.3,112.6 L377.8,112.7 L378.3,112.7 L378.8,112.8 L379.3,112.9 L379.8,112.9 L380.3,113.0 L380.8,113.0 L381.3,113.1 L381.8,113.2 L382.3,113.2 L382.8,113.3 L383.3,113.4 L383.8,113.5 L384.3,113.6 L384.8,113.6 L385.3,113.7 L385.8,113.8 L386.3,113.9 L386.8,114.1 L387.3,114.2 L387.8,114.3 L388.3,114.4 L388.8,114.5 L389.3,114.6 L389.8,114.8 L390.3,114.9 L390.8,115.0 L391.3,115.2 L391.8,115.3 L392.3,115.4 L392.8,115.5 L393.3,115.7 L393.8,115.8 L394.3,116.0 L394.8,116.1 L395.3,116.2 L395.8,116.4 L396.3,116.5 L396.8,116.6 L397.3,116.7 L397.8,116.9 L398.3,117.0 L398.8,117.1 L399.3,117.2 L399.8,117.4 L400.3,117.5 L400.8,117.6 L401.3,117.7 L401.8,117.8 L402.3,117.9 L402.8,118.0 L403.3,118.1 L403.8,118.2 L404.3,118.4 L404.8,118.5 L405.3,118.6 L405.8,118.7 L406.3,118.8 L406.8,118.9 L407.3,119.0 L407.8,119.1 L408.3,119.2 L408.8,119.3 L409.3,119.4 L409.8,119.5 L410.3,119.6 L410.8,119.7 L411.3,119.9 L411.8,120.0 L412.3,120.1 L412.8,120.2 L413.3,120.3 L413.8,120.4 L414.3,120.5 L414.8,120.6 L415.3,120.7 L415.8,120.8 L416.3,120.9 L416.8,121.1 L417.3,121.2 L417.8,121.3 L418.3,121.4 L418.8,121.5 L419.3,121.6 L419.8,121.7 L420.3,121.8 L420.8,122.0 L421.3,122.1 L421.8,122.2 L422.3,122.3 L422.8,122.4 L423.3,122.6 L423.8,122.7 L424.3,122.8 L424.8,122.9 L425.3,123.1 L425.8,123.2 L426.3,123.3 L426.8,123.5 L427.3,123.6 L427.8,123.7 L428.3,123.9 L428.8,124.0 L429.3,124.2 L429.8,124.3 L430.3,124.4 L430.8,124.6 L431.3,124.7 L431.8,124.9 L432.3,125.0 L432.8,125.2 L433.3,125.3 L433.8,125.5 L434.3,125.6 L434.8,125.8 L435.3,125.9 L435.8,126.1 L436.3,126.2 L436.8,126.4 L437.3,126.5 L437.8,126.7 L438.3,126.8 L438.8,127.0 L439.3,127.1 L439.8,127.3 L440.3,127.4 L440.8,127.6 L441.3,127.8 L441.8,127.9 L442.3,128.1 L442.8,128.2 L443.3,128.4 L443.8,128.5 L444.3,128.7 L444.8,128.9 L445.3,129.0 L445.8,129.2 L446.3,129.3 L446.8,129.5 L447.3,129.7 L447.8,129.8 L448.3,130.0 L448.8,130.1 L449.3,130.3 L449.8,130.4 L450.3,130.6 L450.8,130.7 L451.3,130.9 L451.8,131.1 L452.3,131.2 L452.8,131.4 L453.3,131.5 L453.8,131.7 L454.3,131.8 L454.8,132.0 L455.3,132.1 L455.8,132.3 L456.3,132.4 L456.8,132.6 L457.3,132.7 L457.8,132.9 L458.3,133.0 L458.8,133.2 L459.3,133.3 L459.8,133.5 L460.3,133.7 L460.8,133.8 L461.3,134.0 L461.8,134.1 L462.3,134.3 L462.8,134.5 L463.3,134.6 L463.8,134.8 L464.3,135.0 L464.8,135.1 L465.3,135.3 L465.8,135.5 L466.3,135.6 L466.8,135.8 L467.3,136.0 L467.8,136.2 L468.3,136.4 L468.8,136.5 L469.3,136.7 L469.8,136.9 L470.3,137.1 L470.8,137.3 L471.3,137.5 L471.8,137.7 L472.3,137.9 L472.8,138.2 L473.3,138.4 L473.8,138.6 L474.3,138.8 L474.8,139.1 L475.3,139.3 L475.8,139.5 L476.3,139.8 L476.8,140.0 L477.3,140.3 L477.8,140.5 L478.3,140.7 L478.8,141.0 L479.3,141.2 L479.8,141.5 L480.3,141.7 L480.8,141.9 L481.3,142.2 L481.8,142.4 L482.3,142.6 L482.8,142.9 L483.3,143.1 L483.8,143.3 L484.3,143.6 L484.8,143.8 L485.3,144.0 L485.8,144.2 L486.3,144.5 L486.8,144.7 L487.3,144.9 L487.8,145.2 L488.3,145.4 L488.8,145.6 L489.3,145.9 L489.8,146.1 L490.3,146.3 L490.8,146.5 L491.3,146.8 L491.8,147.0 L492.3,147.2 L492.8,147.5 L493.3,147.7 L493.8,147.9 L494.3,148.2 L494.8,148.4 L495.3,148.6 L495.8,148.9 L496.3,149.2 L496.8,149.4 L497.3,149.7 L497.8,150.0 L498.3,150.3 L498.8,150.6 L499.3,150.9 L499.8,151.2 L500.3,151.5 L500.8,151.8 L501.3,152.1 L501.8,152.4 L502.3,152.7 L502.8,153.0 L503.3,153.3 L503.8,153.5 L504.3,153.8 L504.8,154.0 L505.3,154.3 L505.8,154.5 L506.3,154.6 L506.8,154.8 L507.3,154.9 L507.8,155.0 L508.3,155.1 L508.8,155.2 L509.3,155.2 L509.8,155.3 L510.3,155.3 L510.8,155.3 L511.3,155.3 L511.8,155.4 L512.3,155.4 L512.8,155.4 L513.3,155.4 L513.8,155.5 L514.3,155.5 L514.8,155.5 L515.3,155.5 L515.8,155.5 L516.3,155.5 L516.8,155.6 L517.3,155.6 L517.8,155.6 L518.3,155.6 L518.8,155.6 L519.3,155.6 L519.8,155.6 L520.3,155.6 L520.8,155.6 L521.3,155.6 L521.8,155.6 L522.3,155.6 L522.8,155.6 L523.3,155.6 L523.8,155.6 L524.3,155.6 L524.8,155.6 L525.3,155.6 L525.8,155.6 L526.3,155.6 L526.8,155.6 L527.3,155.6 L527.8,155.6 L528.3,155.6 L528.8,155.6 L529.3,155.6 L529.8,155.6 L530.3,155.6 L530.8,155.6 L531.3,155.6 L531.8,155.6 L532.3,155.6 L532.8,155.6 L533.3,155.6 L533.8,155.6 L534.3,155.6 L534.8,155.6 L535.3,155.6 L535.8,155.6 L536.3,155.6 L536.8,155.6 L537.3,155.6 L537.8,155.6 L538.3,155.6 L538.8,155.6 L539.3,155.6 L539.8,155.6 L540.3,155.6 L540.8,155.6 L541.3,155.6 L541.8,155.6 L542.3,155.6 L542.8,155.6 L543.3,155.6 L543.8,155.6 L544.3,155.6" fill="none" stroke="#9a9a9a" stroke-width="1.0" stroke-linejoin="round" />
<path d="M349.3,110.3 L349.8,110.3 L350.3,110.2 L350.8,110.2 L351.3,110.1 L351.8,110.0 L352.3,109.9 L352.8,109.8 L353.3,109.7 L353.8,109.6 L354.3,109.5 L354.8,109.4 L355.3,109.2 L355.8,109.0 L356.3,108.9 L356.8,108.7 L357.3,108.4 L357.8,108.2 L358.3,107.9 L358.8,107.7 L359.3,107.4 L359.8,107.0 L360.3,106.7 L360.8,106.3 L361.3,105.9 L361.8,105.5 L362.3,105.1 L362.8,104.6 L363.3,104.2 L363.8,103.7 L364.3,103.2 L364.8,102.6 L365.3,102.1 L365.8,101.5 L366.3,101.0 L366.8,100.4 L367.3,99.8 L367.8,99.2 L368.3,98.6 L368.8,98.0 L369.3,97.4 L369.8,96.9 L370.3,96.3 L370.8,95.8 L371.3,95.3 L371.8,94.8 L372.3,94.3 L372.8,93.9 L373.3,93.5 L373.8,93.1 L374.3,92.8 L374.8,92.5 L375.3,92.2 L375.8,92.0 L376.3,91.9 L376.8,91.8 L377.3,91.8 L377.8,91.8 L378.3,91.8 L378.8,92.0 L379.3,92.1 L379.8,92.4 L380.3,92.6 L380.8,92.9 L381.3,93.3 L381.8,93.7 L382.3,94.2 L382.8,94.7 L383.3,95.2 L383.8,95.8 L384.3,96.4 L384.8,97.1 L385.3,97.7 L385.8,98.4 L386.3,99.1 L386.8,99.9 L387.3,100.6 L387.8,101.3 L388.3,102.1 L388.8,102.8 L389.3,103.6 L389.8,104.3 L390.3,105.1 L390.8,105.8 L391.3,106.5 L391.8,107.2 L392.3,107.9 L392.8,108.6 L393.3,109.2 L393.8,109.8 L394.3,110.4 L394.8,111.0 L395.3,111.5 L395.8,112.1 L396.3,112.6 L396.8,113.0 L397.3,113.5 L397.8,113.9 L398.3,114.3 L398.8,114.7 L399.3,115.1 L399.8,115.4 L400.3,115.7 L400.8,116.0 L401.3,116.3 L401.8,116.6 L402.3,116.8 L402.8,117.1 L403.3,117.3 L403.8,117.5 L404.3,117.7 L404.8,117.9 L405.3,118.1 L405.8,118.2 L406.3,118.4 L406.8,118.6" fill="none" stroke="#b22222" stroke-width="1.1" stroke-linejoin="round" />
<path d="M377.3,112.3 L377.8,112.2 L378.3,112.2 L378.8,112.1 L379.3,112.0 L379.8,111.9 L380.3,111.8 L380.8,111.6 L381.3,111.4 L381.8,111.2 L382.3,110.9 L382.8,110.6 L383.3,110.2 L383.8,109.8 L384.3,109.3 L384.8,108.9 L385.3,108.3 L385.8,107.7 L386.3,107.1 L386.8,106.5 L387.3,105.8 L387.8,105.1 L388.3,104.3 L388.8,103.6 L389.3,102.9 L389.8,102.1 L390.3,101.4 L390.8,100.7 L391.3,100.1 L391.8,99.5 L392.3,99.0 L392.8,98.5 L393.3,98.1 L393.8,97.9 L394.3,97.7 L394.8,97.6 L395.3,97.7 L395.8,97.8 L396.3,98.1 L396.8,98.4 L397.3,98.9 L397.8,99.4 L398.3,100.1 L398.8,100.8 L399.3,101.6 L399.8,102.4 L400.3,103.3 L400.8,104.3 L401.3,105.2 L401.8,106.2 L402.3,107.2 L402.8,108.1 L403.3,109.1 L403.8,110.0 L404.3,110.9 L404.8,111.8 L405.3,112.6 L405.8,113.4 L406.3,114.1 L406.8,114.8 L407.3,115.4 L407.8,116.0 L408.3,116.5 L408.8,117.0 L409.3,117.5 L409.8,117.9 L410.3,118.3 L410.8,118.6 L411.3,118.9 L411.8,119.2 L412.3,119.4 L412.8,119.6 L413.3,119.8 L413.8,120.0" fill="none" stroke="#00e5ee" stroke-width="1.1" stroke-linejoin="round" />
<path d="M386.8,113.7 L387.3,113.7 L387.8,113.7 L388.3,113.7 L388.8,113.7 L389.3,113.7 L389.8,113.6 L390.3,113.5 L390.8,113.3 L391.3,113.2 L391.8,112.9 L392.3,112.7 L392.8,112.3 L393.3,112.0 L393.8,111.5 L394.3,111.1 L394.8,110.5 L395.3,109.9 L395.8,109.3 L396.3,108.5 L396.8,107.8 L397.3,107.0 L397.8,106.2 L398.3,105.3 L398.8,104.4 L399.3,103.5 L399.8,102.6 L400.3,101.8 L400.8,100.9 L401.3,100.2 L401.8,99.4 L402.3,98.8 L402.8,98.2 L403.3,97.7 L403.8,97.4 L404.3,97.1 L404.8,97.0 L405.3,97.0 L405.8,97.1 L406.3,97.3 L406.8,97.7 L407.3,98.2 L407.8,98.8 L408.3,99.5 L408.8,100.3 L409.3,101.2 L409.8,102.2 L410.3,103.2 L410.8,104.2 L411.3,105.3 L411.8,106.4 L412.3,107.6 L412.8,108.7 L413.3,109.8 L413.8,110.8 L414.3,111.9 L414.8,112.8 L415.3,113.8 L415.8,114.7 L416.3,115.5 L416.8,116.3 L417.3,117.0 L417.8,117.7 L418.3,118.3 L418.8,118.8 L419.3,119.3 L419.8,119.8 L420.3,120.2 L420.8,120.6 L421.3,121.0 L421.8,121.3 L422.3,121.6 L422.8,121.8 L423.3,122.1 L423.8,122.3 L424.3,122.5" fill="none" stroke="#9932cc" stroke-width="1.1" stroke-linejoin="round" />
<path d="M388.3,114.1 L388.8,114.1 L389.3,114.2 L389.8,114.2 L390.3,114.3 L390.8,114.3 L391.3,114.3 L391.8,114.3 L392.3,114.3 L392.8,114.3 L393.3,114.2 L393.8,114.1 L394.3,114.0 L394.8,113.9 L395.3,113.8 L395.8,113.6 L396.3,113.3 L396.8,113.1 L397.3,112.8 L397.8,112.4 L398.3,112.0 L398.8,111.6 L399.3,111.1 L399.8,110.6 L400.3,110.0 L400.8,109.4 L401.3,108.7 L401.8,107.9 L402.3,107.1 L402.8,106.3 L403.3,105.4 L403.8,104.5 L404.3,103.5 L404.8,102.5 L405.3,101.4 L405.8,100.3 L406.3,99.2 L406.8,98.0 L407.3,96.9 L407.8,95.7 L408.3,94.5 L408.8,93.3 L409.3,92.1 L409.8,90.9 L410.3,89.8 L410.8,88.7 L411.3,87.6 L411.8,86.6 L412.3,85.6 L412.8,84.7 L413.3,83.8 L413.8,83.1 L414.3,82.4 L414.8,81.8 L415.3,81.3 L415.8,80.9 L416.3,80.7 L416.8,80.5 L417.3,80.4 L417.8,80.5 L418.3,80.7 L418.8,81.0 L419.3,81.3 L419.8,81.9 L420.3,82.5 L420.8,83.2 L421.3,84.0 L421.8,84.9 L422.3,85.9 L422.8,86.9 L423.3,88.1 L423.8,89.3 L424.3,90.6 L424.8,91.9 L425.3,93.2 L425.8,94.6 L426.3,96.0 L426.8,97.4 L427.3,98.9 L427.8,100.3 L428.3,101.7 L428.8,103.2 L429.3,104.6 L429.8,105.9 L430.3,107.3 L430.8,108.6 L431.3,109.9 L431.8,111.1 L432.3,112.3 L432.8,113.4 L433.3,114.5 L433.8,115.6 L434.3,116.6 L434.8,117.5 L435.3,118.4 L435.8,119.3 L436.3,120.1 L436.8,120.8 L437.3,121.6 L437.8,122.2 L438.3,122.8 L438.8,123.4 L439.3,124.0 L439.8,124.5 L440.3,125.0 L440.8,125.4 L441.3,125.8 L441.8,126.2 L442.3,126.6 L442.8,127.0 L443.3,127.3 L443.8,127.6 L444.3,127.9 L444.8,128.1 L445.3,128.4 L445.8,128.6 L446.3,128.9 L446.8,129.1 L447.3,129.3" fill="none" stroke="#2a2a9a" stroke-width="1.1" stroke-linejoin="round" />
<path d="M422.3,122.0 L422.8,122.0 L423.3,122.1 L423.8,122.1 L424.3,122.0 L424.8,122.0 L425.3,121.9 L425.8,121.8 L426.3,121.7 L426.8,121.5 L427.3,121.2 L427.8,120.9 L428.3,120.5 L428.8,120.1 L429.3,119.5 L429.8,118.9 L430.3,118.2 L430.8,117.3 L431.3,116.4 L431.8,115.4 L432.3,114.2 L432.8,112.9 L433.3,111.4 L433.8,109.9 L434.3,108.2 L434.8,106.4 L435.3,104.4 L435.8,102.4 L436.3,100.2 L436.8,97.9 L437.3,95.6 L437.8,93.1 L438.3,90.7 L438.8,88.2 L439.3,85.7 L439.8,83.2 L440.3,80.8 L440.8,78.4 L441.3,76.2 L441.8,74.0 L442.3,72.0 L442.8,70.3 L443.3,68.7 L443.8,67.3 L444.3,66.2 L444.8,65.3 L445.3,64.8 L445.8,64.5 L446.3,64.5 L446.8,64.8 L447.3,65.4 L447.8,66.3 L448.3,67.5 L448.8,68.9 L449.3,70.6 L449.8,72.5 L450.3,74.6 L450.8,76.9 L451.3,79.3 L451.8,81.9 L452.3,84.5 L452.8,87.3 L453.3,90.1 L453.8,92.9 L454.3,95.7 L454.8,98.5 L455.3,101.2 L455.8,103.8 L456.3,106.4 L456.8,108.9 L457.3,111.3 L457.8,113.5 L458.3,115.6 L458.8,117.6 L459.3,119.5 L459.8,121.2 L460.3,122.8 L460.8,124.3 L461.3,125.7 L461.8,126.9 L462.3,128.0 L462.8,129.1 L463.3,130.0 L463.8,130.8 L464.3,131.6 L464.8,132.3 L465.3,132.9 L465.8,133.5 L466.3,134.0 L466.8,134.4 L467.3,134.8 L467.8,135.2 L468.3,135.6 L468.8,135.9 L469.3,136.2 L469.8,136.5 L470.3,136.8" fill="none" stroke="#129612" stroke-width="1.1" stroke-linejoin="round" />
<path d="M441.3,127.4 L441.8,127.5 L442.3,127.6 L442.8,127.6 L443.3,127.6 L443.8,127.6 L444.3,127.6 L444.8,127.6 L445.3,127.5 L445.8,127.4 L446.3,127.3 L446.8,127.1 L447.3,126.9 L447.8,126.6 L448.3,126.2 L448.8,125.9 L449.3,125.4 L449.8,124.9 L450.3,124.4 L450.8,123.7 L451.3,123.1 L451.8,122.3 L452.3,121.5 L452.8,120.6 L453.3,119.7 L453.8,118.7 L454.3,117.7 L454.8,116.6 L455.3,115.6 L455.8,114.4 L456.3,113.3 L456.8,112.2 L457.3,111.1 L457.8,110.0 L458.3,109.0 L458.8,108.0 L459.3,107.0 L459.8,106.2 L460.3,105.4 L460.8,104.8 L461.3,104.2 L461.8,103.7 L462.3,103.4 L462.8,103.2 L463.3,103.2 L463.8,103.3 L464.3,103.5 L464.8,103.9 L465.3,104.4 L465.8,105.1 L466.3,105.9 L466.8,106.7 L467.3,107.8 L467.8,108.9 L468.3,110.1 L468.8,111.3 L469.3,112.7 L469.8,114.1 L470.3,115.5 L470.8,116.9 L471.3,118.4 L471.8,119.9 L472.3,121.4 L472.8,122.8 L473.3,124.3 L473.8,125.7 L474.3,127.0 L474.8,128.3 L475.3,129.6 L475.8,130.8 L476.3,131.9 L476.8,133.0 L477.3,134.0 L477.8,135.0 L478.3,135.9 L478.8,136.7 L479.3,137.5 L479.8,138.2 L480.3,138.9 L480.8,139.5 L481.3,140.1 L481.8,140.6 L482.3,141.1 L482.8,141.6 L483.3,142.0 L483.8,142.4 L484.3,142.8 L484.8,143.2 L485.3,143.5 L485.8,143.8 L486.3,144.1" fill="none" stroke="#ff22ee" stroke-width="1.1" stroke-linejoin="round" />
<path d="M453.3,131.2 L453.8,131.3 L454.3,131.4 L454.8,131.4 L455.3,131.4 L455.8,131.5 L456.3,131.4 L456.8,131.4 L457.3,131.3 L457.8,131.2 L458.3,131.1 L458.8,130.9 L459.3,130.7 L459.8,130.4 L460.3,130.0 L460.8,129.6 L461.3,129.1 L461.8,128.5 L462.3,127.9 L462.8,127.1 L463.3,126.2 L463.8,125.2 L464.3,124.1 L464.8,122.9 L465.3,121.6 L465.8,120.1 L466.3,118.5 L466.8,116.7 L467.3,114.8 L467.8,112.8 L468.3,110.6 L468.8,108.2 L469.3,105.8 L469.8,103.2 L470.3,100.5 L470.8,97.6 L471.3,94.7 L471.8,91.7 L472.3,88.7 L472.8,85.6 L473.3,82.4 L473.8,79.3 L474.3,76.1 L474.8,73.1 L475.3,70.0 L475.8,67.1 L476.3,64.3 L476.8,61.6 L477.3,59.2 L477.8,56.9 L478.3,54.8 L478.8,53.0 L479.3,51.4 L479.8,50.1 L480.3,49.1 L480.8,48.4 L481.3,48.0 L481.8,47.9 L482.3,48.2 L482.8,48.8 L483.3,49.7 L483.8,50.9 L484.3,52.5 L484.8,54.3 L485.3,56.4 L485.8,58.7 L486.3,61.3 L486.8,64.1 L487.3,67.1 L487.8,70.3 L488.3,73.6 L488.8,77.0 L489.3,80.5 L489.8,84.1 L490.3,87.6 L490.8,91.2 L491.3,94.8 L491.8,98.4 L492.3,101.9 L492.8,105.3 L493.3,108.7 L493.8,111.9 L494.3,115.0 L494.8,118.0 L495.3,120.9 L495.8,123.6 L496.3,126.2 L496.8,128.7 L497.3,131.0 L497.8,133.2 L498.3,135.3 L498.8,137.2 L499.3,139.0 L499.8,140.7 L500.3,142.2 L500.8,143.7 L501.3,145.0 L501.8,146.2 L502.3,147.3 L502.8,148.3 L503.3,149.2 L503.8,150.0 L504.3,150.8 L504.8,151.4 L505.3,152.0 L505.8,152.6 L506.3,153.0 L506.8,153.5 L507.3,153.8 L507.8,154.1 L508.3,154.3 L508.8,154.5 L509.3,154.7 L509.8,154.8 L510.3,154.9 L510.8,155.0" fill="none" stroke="#2030f0" stroke-width="1.1" stroke-linejoin="round" />
<path d="M479.3,140.9 L479.8,141.0 L480.3,141.1 L480.8,141.0 L481.3,141.0 L481.8,140.8 L482.3,140.4 L482.8,140.0 L483.3,139.3 L483.8,138.5 L484.3,137.4 L484.8,136.1 L485.3,134.5 L485.8,132.5 L486.3,130.3 L486.8,127.7 L487.3,124.8 L487.8,121.6 L488.3,118.1 L488.8,114.4 L489.3,110.6 L489.8,106.8 L490.3,102.9 L490.8,99.3 L491.3,95.8 L491.8,92.8 L492.3,90.2 L492.8,88.2 L493.3,86.8 L493.8,86.0 L494.3,86.1 L494.8,86.8 L495.3,88.3 L495.8,90.4 L496.3,93.2 L496.8,96.5 L497.3,100.2 L497.8,104.3 L498.3,108.5 L498.8,112.9 L499.3,117.3 L499.8,121.6 L500.3,125.7 L500.8,129.6 L501.3,133.3 L501.8,136.6 L502.3,139.6 L502.8,142.2 L503.3,144.5 L503.8,146.5 L504.3,148.2 L504.8,149.7 L505.3,150.9 L505.8,151.9 L506.3,152.7 L506.8,153.3 L507.3,153.9 L507.8,154.3 L508.3,154.6 L508.8,154.8" fill="none" stroke="#22ee22" stroke-width="1.1" stroke-linejoin="round" />
<path d="M309.3,104.2 L310.3,109.0 L311.3,107.0 L312.3,104.0 L313.3,106.1 L314.3,105.3 L315.3,108.3 L316.3,108.0 L317.3,111.0 L318.3,110.0 L319.3,104.3 L320.3,109.6 L321.3,111.1 L322.3,110.1 L323.3,111.7 L324.3,107.8 L325.3,106.9 L326.3,111.9 L327.3,106.8 L328.3,104.1 L329.3,112.5 L330.3,108.0 L331.3,109.2 L332.3,106.5 L333.3,106.8 L334.3,107.3 L335.3,109.4 L336.3,111.4 L337.3,104.6 L338.3,112.6 L339.3,107.6 L340.3,108.0 L341.3,112.6 L342.3,110.7 L343.3,106.9 L344.3,115.7 L345.3,108.7 L346.3,111.4 L347.3,111.1 L348.3,114.0 L349.3,108.8 L350.3,112.2 L351.3,107.0 L352.3,111.1 L353.3,105.4 L354.3,105.4 L355.3,110.3 L356.3,105.1 L357.3,103.5 L358.3,108.0 L359.3,102.1 L360.3,98.1 L361.3,101.3 L362.3,95.6 L363.3,100.9 L364.3,100.5 L365.3,95.3 L366.3,94.6 L367.3,96.2 L368.3,95.3 L369.3,92.3 L370.3,95.9 L371.3,88.7 L372.3,92.6 L373.3,92.3 L374.3,92.4 L375.3,93.7 L376.3,89.5 L377.3,94.0 L378.3,91.9 L379.3,90.6 L380.3,88.6 L381.3,89.1 L382.3,93.0 L383.3,89.5 L384.3,92.0 L385.3,94.5 L386.3,94.2 L387.3,95.3 L388.3,90.0 L389.3,87.5 L390.3,92.4 L391.3,89.9 L392.3,91.3 L393.3,87.7 L394.3,89.9 L395.3,88.2 L396.3,87.0 L397.3,85.6 L398.3,84.5 L399.3,83.3 L400.3,82.5 L401.3,83.7 L402.3,79.1 L403.3,84.1 L404.3,78.5 L405.3,80.6 L406.3,77.0 L407.3,75.8 L408.3,80.9 L409.3,74.0 L410.3,70.9 L411.3,71.8 L412.3,72.4 L413.3,78.7 L414.3,73.6 L415.3,75.8 L416.3,71.3 L417.3,75.6 L418.3,77.6 L419.3,82.0 L420.3,77.3 L421.3,82.8 L422.3,84.3 L423.3,83.4 L424.3,88.6 L425.3,90.6 L426.3,87.8 L427.3,97.8 L428.3,99.8 L429.3,98.9 L430.3,97.7 L431.3,105.4 L432.3,101.9 L433.3,102.6 L434.3,101.7 L435.3,94.2 L436.3,94.6 L437.3,88.4 L438.3,85.2 L439.3,81.3 L440.3,77.8 L441.3,77.0 L442.3,71.0 L443.3,67.2 L444.3,64.4 L445.3,64.1 L446.3,59.7 L447.3,60.4 L448.3,62.0 L449.3,61.8 L450.3,64.6 L451.3,65.5 L452.3,74.8 L453.3,75.7 L454.3,76.2 L455.3,77.6 L456.3,86.1 L457.3,83.6 L458.3,84.4 L459.3,86.9 L460.3,87.7 L461.3,90.8 L462.3,86.7 L463.3,91.3 L464.3,82.2 L465.3,84.5 L466.3,77.9 L467.3,82.9 L468.3,74.7 L469.3,72.7 L470.3,72.5 L471.3,70.6 L472.3,61.6 L473.3,60.9 L474.3,55.5 L475.3,56.9 L476.3,53.9 L477.3,51.1 L478.3,48.2 L479.3,47.0 L480.3,44.1 L481.3,45.3 L482.3,45.6 L483.3,34.2 L484.3,36.4 L485.3,33.3 L486.3,33.6 L487.3,28.2 L488.3,29.3 L489.3,26.7 L490.3,31.9 L491.3,32.0 L492.3,34.1 L493.3,39.5 L494.3,43.3 L495.3,46.6 L496.3,60.5 L497.3,69.3 L498.3,78.8 L499.3,93.0 L500.3,104.7 L501.3,109.3 L502.3,119.8 L503.3,134.2 L504.3,140.8 L505.3,140.5 L506.3,143.4 L507.3,147.6 L508.3,150.0 L509.3,148.5 L510.3,153.7 L511.3,151.0 L512.3,151.8 L513.3,157.7 L514.3,153.8 L515.3,155.5 L516.3,157.4 L517.3,157.9 L518.3,154.9 L519.3,155.8 L520.3,153.4 L521.3,160.0 L522.3,157.1 L523.3,152.5 L524.3,155.3 L525.3,157.1 L526.3,156.5 L527.3,160.0 L528.3,158.8 L529.3,153.8 L530.3,154.9 L531.3,151.9 L532.3,155.8 L533.3,155.6 L534.3,162.3 L535.3,155.5 L536.3,149.8 L537.3,153.6 L538.3,155.6 L539.3,152.1 L540.3,153.2 L541.3,154.5 L542.3,156.4 L543.3,155.1 L544.3,153.3" fill="none" stroke="#111" stroke-width="1.1" stroke-linejoin="round" />
<path d="M309.3,106.2 L309.8,106.3 L310.3,106.4 L310.8,106.5 L311.3,106.6 L311.8,106.7 L312.3,106.8 L312.8,107.0 L313.3,107.1 L313.8,107.2 L314.3,107.3 L314.8,107.4 L315.3,107.5 L315.8,107.6 L316.3,107.8 L316.8,107.9 L317.3,108.0 L317.8,108.1 L318.3,108.2 L318.8,108.3 L319.3,108.4 L319.8,108.5 L320.3,108.5 L320.8,108.6 L321.3,108.7 L321.8,108.8 L322.3,108.9 L322.8,109.0 L323.3,109.0 L323.8,109.1 L324.3,109.2 L324.8,109.3 L325.3,109.3 L325.8,109.4 L326.3,109.5 L326.8,109.5 L327.3,109.6 L327.8,109.7 L328.3,109.7 L328.8,109.8 L329.3,109.8 L329.8,109.9 L330.3,109.9 L330.8,110.0 L331.3,110.0 L331.8,110.1 L332.3,110.1 L332.8,110.2 L333.3,110.2 L333.8,110.3 L334.3,110.3 L334.8,110.3 L335.3,110.4 L335.8,110.4 L336.3,110.5 L336.8,110.5 L337.3,110.5 L337.8,110.6 L338.3,110.6 L338.8,110.6 L339.3,110.7 L339.8,110.7 L340.3,110.7 L340.8,110.8 L341.3,110.8 L341.8,110.8 L342.3,110.9 L342.8,110.9 L343.3,110.9 L343.8,110.9 L344.3,110.9 L344.8,110.9 L345.3,110.9 L345.8,110.8 L346.3,110.8 L346.8,110.7 L347.3,110.6 L347.8,110.5 L348.3,110.4 L348.8,110.2 L349.3,110.0 L349.8,109.8 L350.3,109.5 L350.8,109.2 L351.3,108.9 L351.8,108.6 L352.3,108.2 L352.8,107.8 L353.3,107.3 L353.8,106.9 L354.3,106.4 L354.8,105.9 L355.3,105.3 L355.8,104.8 L356.3,104.3 L356.8,103.7 L357.3,103.2 L357.8,102.7 L358.3,102.1 L358.8,101.6 L359.3,101.2 L359.8,100.7 L360.3,100.2 L360.8,99.8 L361.3,99.4 L361.8,99.0 L362.3,98.7 L362.8,98.3 L363.3,98.0 L363.8,97.6 L364.3,97.3 L364.8,97.0 L365.3,96.8 L365.8,96.5 L366.3,96.2 L366.8,96.0 L367.3,95.7 L367.8,95.5 L368.3,95.3 L368.8,95.0 L369.3,94.8 L369.8,94.6 L370.3,94.4 L370.8,94.2 L371.3,94.0 L371.8,93.9 L372.3,93.7 L372.8,93.5 L373.3,93.4 L373.8,93.2 L374.3,93.1 L374.8,93.0 L375.3,92.9 L375.8,92.8 L376.3,92.7 L376.8,92.6 L377.3,92.5 L377.8,92.4 L378.3,92.4 L378.8,92.3 L379.3,92.3 L379.8,92.2 L380.3,92.2 L380.8,92.2 L381.3,92.1 L381.8,92.1 L382.3,92.1 L382.8,92.0 L383.3,92.0 L383.8,91.9 L384.3,91.9 L384.8,91.8 L385.3,91.7 L385.8,91.6 L386.3,91.5 L386.8,91.4 L387.3,91.2 L387.8,91.0 L388.3,90.8 L388.8,90.6 L389.3,90.3 L389.8,90.1 L390.3,89.8 L390.8,89.5 L391.3,89.1 L391.8,88.8 L392.3,88.4 L392.8,88.0 L393.3,87.6 L393.8,87.2 L394.3,86.8 L394.8,86.4 L395.3,86.0 L395.8,85.6 L396.3,85.1 L396.8,84.7 L397.3,84.3 L397.8,83.9 L398.3,83.5 L398.8,83.1 L399.3,82.7 L399.8,82.3 L400.3,81.9 L400.8,81.5 L401.3,81.2 L401.8,80.8 L402.3,80.4 L402.8,80.0 L403.3,79.6 L403.8,79.2 L404.3,78.8 L404.8,78.4 L405.3,78.0 L405.8,77.6 L406.3,77.2 L406.8,76.8 L407.3,76.4 L407.8,76.0 L408.3,75.6 L408.8,75.2 L409.3,74.9 L409.8,74.5 L410.3,74.2 L410.8,73.9 L411.3,73.7 L411.8,73.4 L412.3,73.3 L412.8,73.1 L413.3,73.1 L413.8,73.0 L414.3,73.1 L414.8,73.2 L415.3,73.3 L415.8,73.6 L416.3,73.9 L416.8,74.3 L417.3,74.7 L417.8,75.2 L418.3,75.8 L418.8,76.5 L419.3,77.3 L419.8,78.2 L420.3,79.1 L420.8,80.1 L421.3,81.2 L421.8,82.3 L422.3,83.5 L422.8,84.8 L423.3,86.0 L423.8,87.3 L424.3,88.6 L424.8,90.0 L425.3,91.3 L425.8,92.6 L426.3,93.9 L426.8,95.1 L427.3,96.3 L427.8,97.4 L428.3,98.4 L428.8,99.3 L429.3,100.0 L429.8,100.7 L430.3,101.1 L430.8,101.4 L431.3,101.6 L431.8,101.5 L432.3,101.2 L432.8,100.7 L433.3,100.0 L433.8,99.1 L434.3,98.1 L434.8,96.9 L435.3,95.5 L435.8,94.1 L436.3,92.5 L436.8,90.8 L437.3,89.0 L437.8,87.2 L438.3,85.4 L438.8,83.5 L439.3,81.6 L439.8,79.7 L440.3,77.8 L440.8,75.9 L441.3,74.1 L441.8,72.3 L442.3,70.7 L442.8,69.1 L443.3,67.6 L443.8,66.3 L444.3,65.1 L444.8,64.1 L445.3,63.2 L445.8,62.5 L446.3,62.1 L446.8,61.8 L447.3,61.7 L447.8,61.8 L448.3,62.1 L448.8,62.6 L449.3,63.2 L449.8,64.0 L450.3,64.9 L450.8,66.0 L451.3,67.1 L451.8,68.3 L452.3,69.6 L452.8,70.9 L453.3,72.3 L453.8,73.6 L454.3,75.0 L454.8,76.4 L455.3,77.8 L455.8,79.1 L456.3,80.4 L456.8,81.6 L457.3,82.7 L457.8,83.7 L458.3,84.7 L458.8,85.4 L459.3,86.1 L459.8,86.6 L460.3,86.9 L460.8,87.1 L461.3,87.1 L461.8,87.0 L462.3,86.8 L462.8,86.4 L463.3,85.8 L463.8,85.2 L464.3,84.4 L464.8,83.6 L465.3,82.7 L465.8,81.6 L466.3,80.5 L466.8,79.4 L467.3,78.2 L467.8,76.9 L468.3,75.6 L468.8,74.3 L469.3,72.9 L469.8,71.5 L470.3,70.1 L470.8,68.7 L471.3,67.3 L471.8,65.9 L472.3,64.5 L472.8,63.1 L473.3,61.8 L473.8,60.4 L474.3,59.1 L474.8,57.8 L475.3,56.6 L475.8,55.4 L476.3,54.2 L476.8,53.1 L477.3,52.0 L477.8,51.0 L478.3,50.0 L478.8,49.0 L479.3,48.0 L479.8,47.0 L480.3,46.0 L480.8,45.0 L481.3,43.9 L481.8,42.8 L482.3,41.7 L482.8,40.4 L483.3,39.2 L483.8,38.0 L484.3,36.7 L484.8,35.5 L485.3,34.4 L485.8,33.3 L486.3,32.3 L486.8,31.4 L487.3,30.7 L487.8,30.1 L488.3,29.7 L488.8,29.5 L489.3,29.4 L489.8,29.7 L490.3,30.1 L490.8,30.8 L491.3,31.8 L491.8,33.0 L492.3,34.6 L492.8,36.4 L493.3,38.6 L493.8,41.1 L494.3,43.9 L494.8,47.1 L495.3,50.7 L495.8,54.6 L496.3,58.9 L496.8,63.6 L497.3,68.5 L497.8,73.8 L498.3,79.2 L498.8,84.8 L499.3,90.4 L499.8,96.0 L500.3,101.6 L500.8,107.0 L501.3,112.2 L501.8,117.2 L502.3,121.8 L502.8,126.2 L503.3,130.2 L503.8,133.8 L504.3,137.1 L504.8,140.0 L505.3,142.5 L505.8,144.6 L506.3,146.5 L506.8,148.0 L507.3,149.3 L507.8,150.4 L508.3,151.3 L508.8,152.0 L509.3,152.6 L509.8,153.2 L510.3,153.6 L510.8,154.0 L511.3,154.4 L511.8,154.7 L512.3,154.9 L512.8,155.1 L513.3,155.3 L513.8,155.5 L514.3,155.6 L514.8,155.7 L515.3,155.7 L515.8,155.8 L516.3,155.8 L516.8,155.8 L517.3,155.8 L517.8,155.8 L518.3,155.7 L518.8,155.7 L519.3,155.7 L519.8,155.6 L520.3,155.6 L520.8,155.5 L521.3,155.5 L521.8,155.5 L522.3,155.4 L522.8,155.4 L523.3,155.4 L523.8,155.3 L524.3,155.3 L524.8,155.3 L525.3,155.3 L525.8,155.3 L526.3,155.2 L526.8,155.2 L527.3,155.2 L527.8,155.2 L528.3,155.2 L528.8,155.2 L529.3,155.2 L529.8,155.2 L530.3,155.2 L530.8,155.2 L531.3,155.2 L531.8,155.2 L532.3,155.2 L532.8,155.2 L533.3,155.2 L533.8,155.2 L534.3,155.2 L534.8,155.2 L535.3,155.2 L535.8,155.3 L536.3,155.3 L536.8,155.3 L537.3,155.3 L537.8,155.3 L538.3,155.3 L538.8,155.4 L539.3,155.4 L539.8,155.4 L540.3,155.4 L540.8,155.4 L541.3,155.5 L541.8,155.5 L542.3,155.5 L542.8,155.5 L543.3,155.5 L543.8,155.6 L544.3,155.6" fill="none" stroke="#ee1111" stroke-width="1.3" stroke-linejoin="round" />
<text x="354.1" y="78.4" font-size="8" font-weight="normal" fill="#b22222" text-anchor="start" stroke="#b22222" stroke-width="0.3" transform="translate(0 -5.49) scale(1 1.07)" >Ti-O</text>
<line x1="363.2" y1="79.7" x2="370.8" y2="91.3" stroke="#b22222" stroke-width="0.9"/>
<path d="M372.4,93.8 L368.6,91.5 L371.8,89.4 Z" fill="#b22222"/>
<text x="362.9" y="47.4" font-size="8" font-weight="normal" fill="#00e5ee" text-anchor="start" stroke="#00e5ee" stroke-width="0.3" transform="translate(0 -3.32) scale(1 1.07)" >Ti (III)</text>
<line x1="370.7" y1="49.1" x2="390.2" y2="94.8" stroke="#00e5ee" stroke-width="0.9"/>
<path d="M391.4,97.6 L388.1,94.7 L391.6,93.2 Z" fill="#00e5ee"/>
<text x="382.3" y="69.8" font-size="8" font-weight="normal" fill="#9932cc" text-anchor="start" stroke="#9932cc" stroke-width="0.3" transform="translate(0 -4.89) scale(1 1.07)" >Ti (II)</text>
<line x1="392.2" y1="72.3" x2="401.8" y2="93.6" stroke="#9932cc" stroke-width="0.9"/>
<path d="M403.0,96.3 L399.6,93.4 L403.1,91.9 Z" fill="#9932cc"/>
<text x="400.2" y="51.6" font-size="8" font-weight="normal" fill="#2a2a9a" text-anchor="start" stroke="#2a2a9a" stroke-width="0.3" transform="translate(0 -3.61) scale(1 1.07)" >Ti-C</text>
<line x1="408.0" y1="54.0" x2="416.0" y2="76.1" stroke="#2a2a9a" stroke-width="0.9"/>
<path d="M417.0,78.9 L413.9,75.8 L417.4,74.5 Z" fill="#2a2a9a"/>
<text x="425" y="34" font-size="8" font-weight="normal" fill="#129612" text-anchor="start" stroke="#129612" stroke-width="0.3" transform="translate(0 -2.38) scale(1 1.07)" >Ti-O</text>
<line x1="433.0" y1="36.0" x2="442.4" y2="60.2" stroke="#129612" stroke-width="0.9"/>
<path d="M443.5,63.0 L440.3,60.0 L443.8,58.6 Z" fill="#129612"/>
<text x="447.7" y="51" font-size="8" font-weight="normal" fill="#ff22ee" text-anchor="start" stroke="#ff22ee" stroke-width="0.3" transform="translate(0 -3.57) scale(1 1.07)" >Ti (III)</text>
<line x1="457.0" y1="53.0" x2="462.6" y2="97.0" stroke="#ff22ee" stroke-width="0.9"/>
<path d="M463.0,100.0 L460.6,96.3 L464.4,95.8 Z" fill="#ff22ee"/>
<text x="463.3" y="21.5" font-size="8" font-weight="normal" fill="#2030f0" text-anchor="start" stroke="#2030f0" stroke-width="0.3" transform="translate(0 -1.51) scale(1 1.07)" >Ti (II)</text>
<line x1="473.0" y1="25.0" x2="478.3" y2="46.6" stroke="#2030f0" stroke-width="0.9"/>
<path d="M479.0,49.5 L476.2,46.1 L479.9,45.2 Z" fill="#2030f0"/>
<text x="510.4" y="61.8" font-size="8" font-weight="normal" fill="#22ee22" text-anchor="start" stroke="#22ee22" stroke-width="0.3" transform="translate(0 -4.33) scale(1 1.07)" >Ti-C</text>
<line x1="510.0" y1="65.0" x2="498.4" y2="87.3" stroke="#22ee22" stroke-width="0.9"/>
<path d="M497.0,90.0 L497.2,85.6 L500.5,87.3 Z" fill="#22ee22"/>
<text x="2.8" y="229.9" font-size="18" font-weight="bold" fill="#000" text-anchor="start" >(c)</text>
<rect x="29.5" y="214" width="236.0" height="176.3" fill="none" stroke="#333333" stroke-width="1.3"/>
<line x1="49.2" y1="390.3" x2="49.2" y2="393.1" stroke="#333333" stroke-width="1"/>
<text x="49.2" y="403.6" font-size="9" font-weight="bold" fill="#000" text-anchor="middle" >292</text>
<line x1="68.8" y1="390.3" x2="68.8" y2="392.1" stroke="#333333" stroke-width="1"/>
<line x1="88.5" y1="390.3" x2="88.5" y2="393.1" stroke="#333333" stroke-width="1"/>
<text x="88.5" y="403.6" font-size="9" font-weight="bold" fill="#000" text-anchor="middle" >290</text>
<line x1="108.2" y1="390.3" x2="108.2" y2="392.1" stroke="#333333" stroke-width="1"/>
<line x1="127.8" y1="390.3" x2="127.8" y2="393.1" stroke="#333333" stroke-width="1"/>
<text x="127.8" y="403.6" font-size="9" font-weight="bold" fill="#000" text-anchor="middle" >288</text>
<line x1="147.5" y1="390.3" x2="147.5" y2="392.1" stroke="#333333" stroke-width="1"/>
<line x1="167.2" y1="390.3" x2="167.2" y2="393.1" stroke="#333333" stroke-width="1"/>
<text x="167.2" y="403.6" font-size="9" font-weight="bold" fill="#000" text-anchor="middle" >286</text>
<line x1="186.8" y1="390.3" x2="186.8" y2="392.1" stroke="#333333" stroke-width="1"/>
<line x1="206.5" y1="390.3" x2="206.5" y2="393.1" stroke="#333333" stroke-width="1"/>
<text x="206.5" y="403.6" font-size="9" font-weight="bold" fill="#000" text-anchor="middle" >284</text>
<line x1="226.2" y1="390.3" x2="226.2" y2="392.1" stroke="#333333" stroke-width="1"/>
<line x1="245.8" y1="390.3" x2="245.8" y2="393.1" stroke="#333333" stroke-width="1"/>
<text x="245.8" y="403.6" font-size="9" font-weight="bold" fill="#000" text-anchor="middle" >282</text>
<text x="32.7" y="225" font-size="8" font-weight="normal" fill="#222" text-anchor="start" stroke="#222" stroke-width="0.3" transform="translate(0 -15.75) scale(1 1.07)" >C 1s</text>
<text x="147.6" y="416.8" font-size="10.3" font-weight="bold" fill="#000" text-anchor="middle" >Binding Energy (eV)</text>
<text transform="translate(23.3,307.7) rotate(-90)" font-size="10.4" font-weight="bold" text-anchor="middle">Intensity (a.u.)</text>
<path d="M34.6,359.8 L35.1,359.8 L35.6,359.8 L36.1,359.8 L36.6,359.8 L37.1,359.8 L37.6,359.8 L38.1,359.8 L38.6,359.8 L39.1,359.8 L39.6,359.8 L40.1,359.8 L40.6,359.8 L41.1,359.8 L41.6,359.8 L42.1,359.8 L42.6,359.8 L43.1,359.8 L43.6,359.8 L44.1,359.8 L44.6,359.8 L45.1,359.8 L45.6,359.8 L46.1,359.8 L46.6,359.8 L47.1,359.8 L47.6,359.8 L48.1,359.8 L48.6,359.8 L49.1,359.8 L49.6,359.8 L50.1,359.8 L50.6,359.8 L51.1,359.8 L51.6,359.8 L52.1,359.8 L52.6,359.8 L53.1,359.8 L53.6,359.8 L54.1,359.8 L54.6,359.8 L55.1,359.8 L55.6,359.8 L56.1,359.8 L56.6,359.8 L57.1,359.8 L57.6,359.8 L58.1,359.7 L58.6,359.7 L59.1,359.7 L59.6,359.7 L60.1,359.7 L60.6,359.7 L61.1,359.7 L61.6,359.7 L62.1,359.7 L62.6,359.7 L63.1,359.7 L63.6,359.7 L64.1,359.7 L64.6,359.7 L65.1,359.7 L65.6,359.7 L66.1,359.7 L66.6,359.7 L67.1,359.7 L67.6,359.7 L68.1,359.7 L68.6,359.7 L69.1,359.7 L69.6,359.7 L70.1,359.7 L70.6,359.7 L71.1,359.7 L71.6,359.7 L72.1,359.7 L72.6,359.7 L73.1,359.7 L73.6,359.7 L74.1,359.7 L74.6,359.7 L75.1,359.7 L75.6,359.7 L76.1,359.7 L76.6,359.7 L77.1,359.7 L77.6,359.7 L78.1,359.7 L78.6,359.7 L79.1,359.7 L79.6,359.7 L80.1,359.7 L80.6,359.7 L81.1,359.7 L81.6,359.7 L82.1,359.7 L82.6,359.7 L83.1,359.7 L83.6,359.7 L84.1,359.7 L84.6,359.7 L85.1,359.7 L85.6,359.7 L86.1,359.7 L86.6,359.7 L87.1,359.7 L87.6,359.7 L88.1,359.7 L88.6,359.7 L89.1,359.7 L89.6,359.7 L90.1,359.7 L90.6,359.7 L91.1,359.7 L91.6,359.7 L92.1,359.7 L92.6,359.7 L93.1,359.7 L93.6,359.7 L94.1,359.7 L94.6,359.7 L95.1,359.7 L95.6,359.7 L96.1,359.7 L96.6,359.6 L97.1,359.6 L97.6,359.6 L98.1,359.6 L98.6,359.6 L99.1,359.6 L99.6,359.6 L100.1,359.6 L100.6,359.6 L101.1,359.6 L101.6,359.6 L102.1,359.6 L102.6,359.6 L103.1,359.6 L103.6,359.6 L104.1,359.6 L104.6,359.6 L105.1,359.6 L105.6,359.6 L106.1,359.6 L106.6,359.6 L107.1,359.6 L107.6,359.6 L108.1,359.6 L108.6,359.6 L109.1,359.6 L109.6,359.6 L110.1,359.6 L110.6,359.6 L111.1,359.6 L111.6,359.6 L112.1,359.6 L112.6,359.6 L113.1,359.6 L113.6,359.6 L114.1,359.6 L114.6,359.6 L115.1,359.6 L115.6,359.6 L116.1,359.6 L116.6,359.6 L117.1,359.6 L117.6,359.6 L118.1,359.6 L118.6,359.6 L119.1,359.6 L119.6,359.6 L120.1,359.6 L120.6,359.6 L121.1,359.6 L121.6,359.6 L122.1,359.6 L122.6,359.6 L123.1,359.6 L123.6,359.6 L124.1,359.6 L124.6,359.6 L125.1,359.6 L125.6,359.6 L126.1,359.6 L126.6,359.6 L127.1,359.6 L127.6,359.6 L128.1,359.6 L128.6,359.6 L129.1,359.6 L129.6,359.6 L130.1,359.6 L130.6,359.6 L131.1,359.6 L131.6,359.6 L132.1,359.6 L132.6,359.6 L133.1,359.6 L133.6,359.6 L134.1,359.6 L134.6,359.6 L135.1,359.6 L135.6,359.6 L136.1,359.6 L136.6,359.6 L137.1,359.6 L137.6,359.6 L138.1,359.6 L138.6,359.6 L139.1,359.6 L139.6,359.6 L140.1,359.6 L140.6,359.6 L141.1,359.6 L141.6,359.6 L142.1,359.6 L142.6,359.6 L143.1,359.6 L143.6,359.6 L144.1,359.6 L144.6,359.6 L145.1,359.6 L145.6,359.7 L146.1,359.7 L146.6,359.7 L147.1,359.7 L147.6,359.7 L148.1,359.8 L148.6,359.8 L149.1,359.8 L149.6,359.8 L150.1,359.9 L150.6,359.9 L151.1,359.9 L151.6,359.9 L152.1,360.0 L152.6,360.0 L153.1,360.0 L153.6,360.1 L154.1,360.1 L154.6,360.1 L155.1,360.2 L155.6,360.2 L156.1,360.2 L156.6,360.3 L157.1,360.3 L157.6,360.3 L158.1,360.4 L158.6,360.4 L159.1,360.4 L159.6,360.5 L160.1,360.5 L160.6,360.5 L161.1,360.6 L161.6,360.6 L162.1,360.6 L162.6,360.7 L163.1,360.7 L163.6,360.8 L164.1,360.8 L164.6,360.8 L165.1,360.9 L165.6,360.9 L166.1,361.0 L166.6,361.0 L167.1,361.1 L167.6,361.1 L168.1,361.1 L168.6,361.2 L169.1,361.2 L169.6,361.3 L170.1,361.3 L170.6,361.4 L171.1,361.4 L171.6,361.5 L172.1,361.5 L172.6,361.6 L173.1,361.7 L173.6,361.7 L174.1,361.8 L174.6,361.8 L175.1,361.9 L175.6,362.0 L176.1,362.0 L176.6,362.1 L177.1,362.1 L177.6,362.2 L178.1,362.3 L178.6,362.4 L179.1,362.4 L179.6,362.5 L180.1,362.6 L180.6,362.7 L181.1,362.8 L181.6,362.9 L182.1,363.0 L182.6,363.0 L183.1,363.1 L183.6,363.2 L184.1,363.3 L184.6,363.4 L185.1,363.5 L185.6,363.6 L186.1,363.7 L186.6,363.8 L187.1,363.9 L187.6,364.0 L188.1,364.1 L188.6,364.2 L189.1,364.3 L189.6,364.4 L190.1,364.5 L190.6,364.6 L191.1,364.7 L191.6,364.8 L192.1,364.9 L192.6,365.0 L193.1,365.1 L193.6,365.2 L194.1,365.3 L194.6,365.4 L195.1,365.5 L195.6,365.6 L196.1,365.7 L196.6,365.8 L197.1,365.9 L197.6,366.0 L198.1,366.1 L198.6,366.2 L199.1,366.3 L199.6,366.4 L200.1,366.5 L200.6,366.6 L201.1,366.8 L201.6,366.9 L202.1,367.0 L202.6,367.1 L203.1,367.2 L203.6,367.3 L204.1,367.4 L204.6,367.5 L205.1,367.6 L205.6,367.6 L206.1,367.7 L206.6,367.8 L207.1,367.9 L207.6,368.0 L208.1,368.1 L208.6,368.1 L209.1,368.2 L209.6,368.3 L210.1,368.3 L210.6,368.4 L211.1,368.4 L211.6,368.5 L212.1,368.5 L212.6,368.6 L213.1,368.6 L213.6,368.7 L214.1,368.7 L214.6,368.8 L215.1,368.8 L215.6,368.9 L216.1,368.9 L216.6,369.0 L217.1,369.0 L217.6,369.1 L218.1,369.1 L218.6,369.1 L219.1,369.2 L219.6,369.2 L220.1,369.3 L220.6,369.3 L221.1,369.3 L221.6,369.4 L222.1,369.4 L222.6,369.4 L223.1,369.5 L223.6,369.5 L224.1,369.5 L224.6,369.6 L225.1,369.6 L225.6,369.6 L226.1,369.7 L226.6,369.7 L227.1,369.7 L227.6,369.7 L228.1,369.7 L228.6,369.8 L229.1,369.8 L229.6,369.8 L230.1,369.8 L230.6,369.8 L231.1,369.8 L231.6,369.8 L232.1,369.9 L232.6,369.9 L233.1,369.9 L233.6,369.9 L234.1,369.9 L234.6,369.9 L235.1,369.9 L235.6,369.9 L236.1,369.9 L236.6,370.0 L237.1,370.0 L237.6,370.0 L238.1,370.0 L238.6,370.0 L239.1,370.0 L239.6,370.0 L240.1,370.0 L240.6,370.0 L241.1,370.0 L241.6,370.1 L242.1,370.1 L242.6,370.1 L243.1,370.1 L243.6,370.1 L244.1,370.1 L244.6,370.1 L245.1,370.1 L245.6,370.1 L246.1,370.1 L246.6,370.1 L247.1,370.2 L247.6,370.2 L248.1,370.2 L248.6,370.2 L249.1,370.2 L249.6,370.2 L250.1,370.2 L250.6,370.2 L251.1,370.2 L251.6,370.2 L252.1,370.2 L252.6,370.2 L253.1,370.2 L253.6,370.2 L254.1,370.2 L254.6,370.2 L255.1,370.3 L255.6,370.3 L256.1,370.3 L256.6,370.3 L257.1,370.3 L257.6,370.3 L258.1,370.3 L258.6,370.3 L259.1,370.3 L259.6,370.3 L260.1,370.3 L260.6,370.3 L261.1,370.3 L261.6,370.3 L262.1,370.3 L262.6,370.3 L263.1,370.3 L263.6,370.3 L264.1,370.3 L264.6,370.3 L265.1,370.3" fill="none" stroke="#9a9a9a" stroke-width="1.0" stroke-linejoin="round" />
<path d="M51.6,359.5 L52.1,359.4 L52.6,359.4 L53.1,359.4 L53.6,359.4 L54.1,359.3 L54.6,359.3 L55.1,359.3 L55.6,359.3 L56.1,359.2 L56.6,359.2 L57.1,359.2 L57.6,359.1 L58.1,359.1 L58.6,359.1 L59.1,359.0 L59.6,359.0 L60.1,358.9 L60.6,358.9 L61.1,358.9 L61.6,358.8 L62.1,358.8 L62.6,358.7 L63.1,358.7 L63.6,358.6 L64.1,358.6 L64.6,358.5 L65.1,358.5 L65.6,358.4 L66.1,358.3 L66.6,358.3 L67.1,358.2 L67.6,358.2 L68.1,358.1 L68.6,358.0 L69.1,358.0 L69.6,357.9 L70.1,357.8 L70.6,357.7 L71.1,357.7 L71.6,357.6 L72.1,357.5 L72.6,357.4 L73.1,357.4 L73.6,357.3 L74.1,357.2 L74.6,357.1 L75.1,357.0 L75.6,356.9 L76.1,356.9 L76.6,356.8 L77.1,356.7 L77.6,356.6 L78.1,356.5 L78.6,356.4 L79.1,356.3 L79.6,356.2 L80.1,356.1 L80.6,356.1 L81.1,356.0 L81.6,355.9 L82.1,355.8 L82.6,355.7 L83.1,355.6 L83.6,355.5 L84.1,355.4 L84.6,355.3 L85.1,355.3 L85.6,355.2 L86.1,355.1 L86.6,355.0 L87.1,354.9 L87.6,354.9 L88.1,354.8 L88.6,354.7 L89.1,354.6 L89.6,354.6 L90.1,354.5 L90.6,354.4 L91.1,354.4 L91.6,354.3 L92.1,354.3 L92.6,354.2 L93.1,354.2 L93.6,354.1 L94.1,354.1 L94.6,354.0 L95.1,354.0 L95.6,354.0 L96.1,353.9 L96.6,353.9 L97.1,353.9 L97.6,353.8 L98.1,353.8 L98.6,353.8 L99.1,353.8 L99.6,353.8 L100.1,353.8 L100.6,353.8 L101.1,353.8 L101.6,353.8 L102.1,353.8 L102.6,353.8 L103.1,353.9 L103.6,353.9 L104.1,353.9 L104.6,353.9 L105.1,354.0 L105.6,354.0 L106.1,354.0 L106.6,354.1 L107.1,354.1 L107.6,354.2 L108.1,354.2 L108.6,354.3 L109.1,354.3 L109.6,354.4 L110.1,354.5 L110.6,354.5 L111.1,354.6 L111.6,354.7 L112.1,354.7 L112.6,354.8 L113.1,354.9 L113.6,355.0 L114.1,355.1 L114.6,355.1 L115.1,355.2 L115.6,355.3 L116.1,355.4 L116.6,355.5 L117.1,355.6 L117.6,355.6 L118.1,355.7 L118.6,355.8 L119.1,355.9 L119.6,356.0 L120.1,356.1 L120.6,356.2 L121.1,356.3 L121.6,356.3 L122.1,356.4 L122.6,356.5 L123.1,356.6 L123.6,356.7 L124.1,356.8 L124.6,356.9 L125.1,356.9 L125.6,357.0 L126.1,357.1 L126.6,357.2 L127.1,357.3 L127.6,357.3 L128.1,357.4 L128.6,357.5 L129.1,357.6 L129.6,357.6 L130.1,357.7 L130.6,357.8 L131.1,357.9 L131.6,357.9 L132.1,358.0 L132.6,358.1 L133.1,358.1 L133.6,358.2 L134.1,358.2 L134.6,358.3 L135.1,358.3 L135.6,358.4 L136.1,358.5 L136.6,358.5 L137.1,358.6 L137.6,358.6 L138.1,358.6 L138.6,358.7 L139.1,358.7 L139.6,358.8 L140.1,358.8 L140.6,358.9 L141.1,358.9 L141.6,358.9 L142.1,359.0 L142.6,359.0 L143.1,359.0 L143.6,359.1 L144.1,359.1 L144.6,359.1 L145.1,359.2 L145.6,359.2 L146.1,359.3 L146.6,359.3 L147.1,359.3 L147.6,359.4 L148.1,359.4 L148.6,359.5" fill="none" stroke="#9b30b0" stroke-width="1.1" stroke-linejoin="round" />
<path d="M127.6,359.3 L128.1,359.2 L128.6,359.2 L129.1,359.1 L129.6,359.0 L130.1,359.0 L130.6,358.9 L131.1,358.8 L131.6,358.7 L132.1,358.6 L132.6,358.4 L133.1,358.3 L133.6,358.1 L134.1,358.0 L134.6,357.8 L135.1,357.6 L135.6,357.4 L136.1,357.1 L136.6,356.9 L137.1,356.6 L137.6,356.3 L138.1,355.9 L138.6,355.6 L139.1,355.2 L139.6,354.8 L140.1,354.4 L140.6,353.9 L141.1,353.4 L141.6,352.9 L142.1,352.4 L142.6,351.9 L143.1,351.3 L143.6,350.7 L144.1,350.0 L144.6,349.4 L145.1,348.7 L145.6,348.0 L146.1,347.3 L146.6,346.6 L147.1,345.8 L147.6,345.1 L148.1,344.3 L148.6,343.5 L149.1,342.8 L149.6,342.0 L150.1,341.2 L150.6,340.4 L151.1,339.7 L151.6,338.9 L152.1,338.2 L152.6,337.5 L153.1,336.8 L153.6,336.1 L154.1,335.5 L154.6,334.9 L155.1,334.3 L155.6,333.8 L156.1,333.3 L156.6,332.9 L157.1,332.5 L157.6,332.2 L158.1,331.9 L158.6,331.7 L159.1,331.5 L159.6,331.4 L160.1,331.4 L160.6,331.4 L161.1,331.5 L161.6,331.6 L162.1,331.8 L162.6,332.1 L163.1,332.4 L163.6,332.8 L164.1,333.2 L164.6,333.7 L165.1,334.2 L165.6,334.8 L166.1,335.4 L166.6,336.0 L167.1,336.7 L167.6,337.4 L168.1,338.2 L168.6,339.0 L169.1,339.8 L169.6,340.6 L170.1,341.4 L170.6,342.3 L171.1,343.1 L171.6,344.0 L172.1,344.8 L172.6,345.7 L173.1,346.5 L173.6,347.4 L174.1,348.2 L174.6,349.0 L175.1,349.8 L175.6,350.6 L176.1,351.4 L176.6,352.1 L177.1,352.8 L177.6,353.5 L178.1,354.2 L178.6,354.8 L179.1,355.5 L179.6,356.1 L180.1,356.6 L180.6,357.2 L181.1,357.7 L181.6,358.2 L182.1,358.7 L182.6,359.2 L183.1,359.6 L183.6,360.0 L184.1,360.4 L184.6,360.8 L185.1,361.1 L185.6,361.5 L186.1,361.8 L186.6,362.1 L187.1,362.4 L187.6,362.6 L188.1,362.9 L188.6,363.1 L189.1,363.3 L189.6,363.6 L190.1,363.8 L190.6,363.9 L191.1,364.1 L191.6,364.3 L192.1,364.5 L192.6,364.6 L193.1,364.8 L193.6,364.9" fill="none" stroke="#b040f0" stroke-width="1.1" stroke-linejoin="round" />
<path d="M153.1,359.7 L153.6,359.6 L154.1,359.6 L154.6,359.5 L155.1,359.4 L155.6,359.2 L156.1,359.1 L156.6,358.9 L157.1,358.6 L157.6,358.3 L158.1,358.0 L158.6,357.6 L159.1,357.1 L159.6,356.6 L160.1,356.0 L160.6,355.3 L161.1,354.5 L161.6,353.6 L162.1,352.6 L162.6,351.6 L163.1,350.4 L163.6,349.2 L164.1,347.9 L164.6,346.4 L165.1,344.9 L165.6,343.3 L166.1,341.6 L166.6,339.9 L167.1,338.2 L167.6,336.4 L168.1,334.6 L168.6,332.8 L169.1,331.0 L169.6,329.3 L170.1,327.7 L170.6,326.1 L171.1,324.7 L171.6,323.4 L172.1,322.3 L172.6,321.3 L173.1,320.5 L173.6,319.9 L174.1,319.5 L174.6,319.3 L175.1,319.3 L175.6,319.6 L176.1,320.1 L176.6,320.7 L177.1,321.6 L177.6,322.7 L178.1,323.9 L178.6,325.3 L179.1,326.9 L179.6,328.5 L180.1,330.3 L180.6,332.1 L181.1,334.0 L181.6,335.9 L182.1,337.9 L182.6,339.8 L183.1,341.7 L183.6,343.6 L184.1,345.4 L184.6,347.1 L185.1,348.8 L185.6,350.4 L186.1,351.9 L186.6,353.3 L187.1,354.6 L187.6,355.8 L188.1,356.9 L188.6,358.0 L189.1,358.9 L189.6,359.7 L190.1,360.5 L190.6,361.2 L191.1,361.8 L191.6,362.4 L192.1,362.9 L192.6,363.3 L193.1,363.7 L193.6,364.0 L194.1,364.3 L194.6,364.6 L195.1,364.9 L195.6,365.1 L196.1,365.3 L196.6,365.5" fill="none" stroke="#2a2a9a" stroke-width="1.1" stroke-linejoin="round" />
<path d="M161.6,360.3 L162.1,360.2 L162.6,360.2 L163.1,360.1 L163.6,360.0 L164.1,359.9 L164.6,359.8 L165.1,359.7 L165.6,359.5 L166.1,359.3 L166.6,359.1 L167.1,358.8 L167.6,358.5 L168.1,358.1 L168.6,357.7 L169.1,357.2 L169.6,356.7 L170.1,356.1 L170.6,355.4 L171.1,354.6 L171.6,353.8 L172.1,352.8 L172.6,351.8 L173.1,350.7 L173.6,349.4 L174.1,348.1 L174.6,346.6 L175.1,345.0 L175.6,343.3 L176.1,341.5 L176.6,339.5 L177.1,337.4 L177.6,335.3 L178.1,333.0 L178.6,330.6 L179.1,328.1 L179.6,325.5 L180.1,322.8 L180.6,320.0 L181.1,317.2 L181.6,314.4 L182.1,311.5 L182.6,308.6 L183.1,305.7 L183.6,302.8 L184.1,300.0 L184.6,297.2 L185.1,294.5 L185.6,292.0 L186.1,289.5 L186.6,287.2 L187.1,285.1 L187.6,283.2 L188.1,281.4 L188.6,279.9 L189.1,278.6 L189.6,277.6 L190.1,276.8 L190.6,276.3 L191.1,276.0 L191.6,276.0 L192.1,276.3 L192.6,276.9 L193.1,277.7 L193.6,278.8 L194.1,280.1 L194.6,281.7 L195.1,283.5 L195.6,285.5 L196.1,287.8 L196.6,290.2 L197.1,292.7 L197.6,295.4 L198.1,298.2 L198.6,301.2 L199.1,304.1 L199.6,307.2 L200.1,310.3 L200.6,313.4 L201.1,316.5 L201.6,319.5 L202.1,322.6 L202.6,325.5 L203.1,328.5 L203.6,331.3 L204.1,334.0 L204.6,336.7 L205.1,339.2 L205.6,341.6 L206.1,343.9 L206.6,346.1 L207.1,348.1 L207.6,350.1 L208.1,351.8 L208.6,353.5 L209.1,355.1 L209.6,356.5 L210.1,357.8 L210.6,359.0 L211.1,360.1 L211.6,361.1 L212.1,362.1 L212.6,362.9 L213.1,363.6 L213.6,364.3 L214.1,364.9 L214.6,365.5 L215.1,366.0 L215.6,366.4 L216.1,366.8 L216.6,367.2 L217.1,367.5 L217.6,367.7 L218.1,368.0 L218.6,368.2 L219.1,368.4 L219.6,368.5 L220.1,368.7 L220.6,368.8 L221.1,368.9 L221.6,369.0" fill="none" stroke="#22a022" stroke-width="1.1" stroke-linejoin="round" />
<path d="M177.1,361.8 L177.6,361.8 L178.1,361.8 L178.6,361.8 L179.1,361.7 L179.6,361.7 L180.1,361.6 L180.6,361.5 L181.1,361.4 L181.6,361.2 L182.1,361.1 L182.6,360.9 L183.1,360.6 L183.6,360.3 L184.1,360.0 L184.6,359.6 L185.1,359.2 L185.6,358.7 L186.1,358.1 L186.6,357.5 L187.1,356.8 L187.6,356.1 L188.1,355.3 L188.6,354.4 L189.1,353.4 L189.6,352.4 L190.1,351.3 L190.6,350.2 L191.1,348.9 L191.6,347.7 L192.1,346.3 L192.6,344.9 L193.1,343.5 L193.6,342.1 L194.1,340.6 L194.6,339.1 L195.1,337.6 L195.6,336.1 L196.1,334.7 L196.6,333.3 L197.1,331.9 L197.6,330.6 L198.1,329.4 L198.6,328.2 L199.1,327.2 L199.6,326.3 L200.1,325.5 L200.6,324.9 L201.1,324.3 L201.6,324.0 L202.1,323.7 L202.6,323.7 L203.1,323.8 L203.6,324.0 L204.1,324.4 L204.6,324.9 L205.1,325.6 L205.6,326.5 L206.1,327.4 L206.6,328.5 L207.1,329.7 L207.6,331.0 L208.1,332.4 L208.6,333.8 L209.1,335.3 L209.6,336.9 L210.1,338.5 L210.6,340.1 L211.1,341.8 L211.6,343.4 L212.1,345.0 L212.6,346.6 L213.1,348.2 L213.6,349.8 L214.1,351.3 L214.6,352.7 L215.1,354.1 L215.6,355.4 L216.1,356.7 L216.6,357.8 L217.1,359.0 L217.6,360.0 L218.1,361.0 L218.6,361.9 L219.1,362.7 L219.6,363.5 L220.1,364.2 L220.6,364.8 L221.1,365.4 L221.6,365.9 L222.1,366.4 L222.6,366.9 L223.1,367.2 L223.6,367.6 L224.1,367.9 L224.6,368.2 L225.1,368.4 L225.6,368.6 L226.1,368.8 L226.6,368.9 L227.1,369.1 L227.6,369.2 L228.1,369.3 L228.6,369.4" fill="none" stroke="#ff22ee" stroke-width="1.1" stroke-linejoin="round" />
<path d="M224.6,369.3 L225.1,369.2 L225.6,369.2 L226.1,369.1 L226.6,369.1 L227.1,369.0 L227.6,368.9 L228.1,368.8 L228.6,368.7 L229.1,368.5 L229.6,368.4 L230.1,368.3 L230.6,368.1 L231.1,367.9 L231.6,367.8 L232.1,367.6 L232.6,367.4 L233.1,367.2 L233.6,367.1 L234.1,366.9 L234.6,366.8 L235.1,366.6 L235.6,366.5 L236.1,366.4 L236.6,366.4 L237.1,366.3 L237.6,366.3 L238.1,366.3 L238.6,366.3 L239.1,366.4 L239.6,366.5 L240.1,366.6 L240.6,366.7 L241.1,366.8 L241.6,367.0 L242.1,367.1 L242.6,367.3 L243.1,367.5 L243.6,367.7 L244.1,367.9 L244.6,368.1 L245.1,368.3 L245.6,368.5 L246.1,368.7 L246.6,368.8 L247.1,369.0 L247.6,369.1 L248.1,369.3 L248.6,369.4 L249.1,369.5 L249.6,369.6 L250.1,369.7 L250.6,369.8 L251.1,369.9" fill="none" stroke="#2030f0" stroke-width="1.1" stroke-linejoin="round" />
<path d="M233.6,369.5 L234.1,369.5 L234.6,369.4 L235.1,369.3 L235.6,369.2 L236.1,369.0 L236.6,368.9 L237.1,368.7 L237.6,368.5 L238.1,368.3 L238.6,368.0 L239.1,367.8 L239.6,367.5 L240.1,367.1 L240.6,366.8 L241.1,366.4 L241.6,366.1 L242.1,365.7 L242.6,365.3 L243.1,364.9 L243.6,364.5 L244.1,364.2 L244.6,363.8 L245.1,363.5 L245.6,363.2 L246.1,362.9 L246.6,362.7 L247.1,362.5 L247.6,362.4 L248.1,362.3 L248.6,362.3 L249.1,362.3 L249.6,362.4 L250.1,362.6 L250.6,362.8 L251.1,363.0 L251.6,363.3 L252.1,363.6 L252.6,363.9 L253.1,364.3 L253.6,364.7 L254.1,365.1 L254.6,365.5 L255.1,365.9 L255.6,366.3 L256.1,366.7 L256.6,367.0 L257.1,367.4 L257.6,367.7 L258.1,368.0 L258.6,368.3 L259.1,368.6 L259.6,368.8 L260.1,369.0 L260.6,369.2 L261.1,369.4 L261.6,369.5 L262.1,369.7 L262.6,369.8 L263.1,369.9 L263.6,370.0" fill="none" stroke="#22ee22" stroke-width="1.1" stroke-linejoin="round" />
<path d="M34.6,359.4 L35.6,359.1 L36.6,358.4 L37.6,357.9 L38.6,357.7 L39.6,358.6 L40.6,358.1 L41.6,357.7 L42.6,358.8 L43.6,358.6 L44.6,358.3 L45.6,357.8 L46.6,358.3 L47.6,359.3 L48.6,358.7 L49.6,357.2 L50.6,356.5 L51.6,357.8 L52.6,359.1 L53.6,358.6 L54.6,358.3 L55.6,357.8 L56.6,357.0 L57.6,357.2 L58.6,357.4 L59.6,356.6 L60.6,356.8 L61.6,358.1 L62.6,356.9 L63.6,355.5 L64.6,356.2 L65.6,356.4 L66.6,355.0 L67.6,355.6 L68.6,356.7 L69.6,356.0 L70.6,356.9 L71.6,357.1 L72.6,355.5 L73.6,355.4 L74.6,355.2 L75.6,354.6 L76.6,355.2 L77.6,355.2 L78.6,354.7 L79.6,355.7 L80.6,356.3 L81.6,355.8 L82.6,355.5 L83.6,355.3 L84.6,355.7 L85.6,355.3 L86.6,355.4 L87.6,354.9 L88.6,353.8 L89.6,353.5 L90.6,353.4 L91.6,354.3 L92.6,355.1 L93.6,354.5 L94.6,353.7 L95.6,353.8 L96.6,353.4 L97.6,352.9 L98.6,353.3 L99.6,353.0 L100.6,353.0 L101.6,353.9 L102.6,353.5 L103.6,353.0 L104.6,352.6 L105.6,354.1 L106.6,354.1 L107.6,354.0 L108.6,355.0 L109.6,354.1 L110.6,353.3 L111.6,354.1 L112.6,355.6 L113.6,354.8 L114.6,353.9 L115.6,355.1 L116.6,355.6 L117.6,356.2 L118.6,355.9 L119.6,355.3 L120.6,355.1 L121.6,355.9 L122.6,356.1 L123.6,353.8 L124.6,353.9 L125.6,354.6 L126.6,355.3 L127.6,354.8 L128.6,353.4 L129.6,353.4 L130.6,353.8 L131.6,353.0 L132.6,352.3 L133.6,352.1 L134.6,350.9 L135.6,350.2 L136.6,349.7 L137.6,348.6 L138.6,348.4 L139.6,347.4 L140.6,346.5 L141.6,346.7 L142.6,345.0 L143.6,343.0 L144.6,341.6 L145.6,340.8 L146.6,339.8 L147.6,338.1 L148.6,336.5 L149.6,334.2 L150.6,331.8 L151.6,329.1 L152.6,327.1 L153.6,325.5 L154.6,322.4 L155.6,320.2 L156.6,317.9 L157.6,313.0 L158.6,309.5 L159.6,306.9 L160.6,304.0 L161.6,302.4 L162.6,298.0 L163.6,293.0 L164.6,289.3 L165.6,285.7 L166.6,282.3 L167.6,279.1 L168.6,274.7 L169.6,271.4 L170.6,268.1 L171.6,264.4 L172.6,262.6 L173.6,260.2 L174.6,256.6 L175.6,253.6 L176.6,251.7 L177.6,250.1 L178.6,249.1 L179.6,246.8 L180.6,244.9 L181.6,244.5 L182.6,243.3 L183.6,242.1 L184.6,241.6 L185.6,240.7 L186.6,239.6 L187.6,238.8 L188.6,238.6 L189.6,236.6 L190.6,235.7 L191.6,236.0 L192.6,235.1 L193.6,235.0 L194.6,235.0 L195.6,236.6 L196.6,239.0 L197.6,241.8 L198.6,244.0 L199.6,247.3 L200.6,250.9 L201.6,253.0 L202.6,255.9 L203.6,259.7 L204.6,264.5 L205.6,270.7 L206.6,278.5 L207.6,286.5 L208.6,293.8 L209.6,301.5 L210.6,308.9 L211.6,315.5 L212.6,322.6 L213.6,327.9 L214.6,331.2 L215.6,334.0 L216.6,336.9 L217.6,340.1 L218.6,344.1 L219.6,347.3 L220.6,349.6 L221.6,352.0 L222.6,354.1 L223.6,357.0 L224.6,358.3 L225.6,358.9 L226.6,360.1 L227.6,361.8 L228.6,362.6 L229.6,362.2 L230.6,362.6 L231.6,362.8 L232.6,363.9 L233.6,366.0 L234.6,365.2 L235.6,364.3 L236.6,364.7 L237.6,363.4 L238.6,362.9 L239.6,363.0 L240.6,362.4 L241.6,363.2 L242.6,362.3 L243.6,361.2 L244.6,362.1 L245.6,361.4 L246.6,361.1 L247.6,361.8 L248.6,361.8 L249.6,361.6 L250.6,362.0 L251.6,361.0 L252.6,361.7 L253.6,364.2 L254.6,364.4 L255.6,364.2 L256.6,363.6 L257.6,363.6 L258.6,364.5 L259.6,364.9 L260.6,366.4 L261.6,367.0 L262.6,367.2 L263.6,367.3 L264.6,367.9" fill="none" stroke="#222" stroke-width="1.0" stroke-linejoin="round" />
<path d="M34.6,359.4 L35.1,359.4 L35.6,359.3 L36.1,359.3 L36.6,359.3 L37.1,359.2 L37.6,359.2 L38.1,359.2 L38.6,359.1 L39.1,359.1 L39.6,359.1 L40.1,359.0 L40.6,359.0 L41.1,359.0 L41.6,358.9 L42.1,358.9 L42.6,358.9 L43.1,358.8 L43.6,358.8 L44.1,358.8 L44.6,358.7 L45.1,358.7 L45.6,358.7 L46.1,358.6 L46.6,358.6 L47.1,358.5 L47.6,358.5 L48.1,358.5 L48.6,358.4 L49.1,358.4 L49.6,358.4 L50.1,358.3 L50.6,358.3 L51.1,358.2 L51.6,358.2 L52.1,358.2 L52.6,358.1 L53.1,358.1 L53.6,358.1 L54.1,358.0 L54.6,358.0 L55.1,357.9 L55.6,357.9 L56.1,357.8 L56.6,357.8 L57.1,357.8 L57.6,357.7 L58.1,357.7 L58.6,357.6 L59.1,357.6 L59.6,357.5 L60.1,357.5 L60.6,357.4 L61.1,357.4 L61.6,357.3 L62.1,357.3 L62.6,357.3 L63.1,357.2 L63.6,357.2 L64.1,357.1 L64.6,357.1 L65.1,357.0 L65.6,357.0 L66.1,356.9 L66.6,356.9 L67.1,356.8 L67.6,356.8 L68.1,356.7 L68.6,356.6 L69.1,356.6 L69.6,356.5 L70.1,356.5 L70.6,356.4 L71.1,356.4 L71.6,356.3 L72.1,356.3 L72.6,356.2 L73.1,356.2 L73.6,356.1 L74.1,356.1 L74.6,356.0 L75.1,356.0 L75.6,355.9 L76.1,355.9 L76.6,355.8 L77.1,355.8 L77.6,355.7 L78.1,355.7 L78.6,355.6 L79.1,355.6 L79.6,355.5 L80.1,355.5 L80.6,355.4 L81.1,355.4 L81.6,355.4 L82.1,355.3 L82.6,355.3 L83.1,355.2 L83.6,355.2 L84.1,355.1 L84.6,355.1 L85.1,355.1 L85.6,355.0 L86.1,355.0 L86.6,354.9 L87.1,354.9 L87.6,354.9 L88.1,354.8 L88.6,354.8 L89.1,354.7 L89.6,354.7 L90.1,354.7 L90.6,354.6 L91.1,354.6 L91.6,354.6 L92.1,354.6 L92.6,354.5 L93.1,354.5 L93.6,354.5 L94.1,354.4 L94.6,354.4 L95.1,354.4 L95.6,354.4 L96.1,354.4 L96.6,354.3 L97.1,354.3 L97.6,354.3 L98.1,354.3 L98.6,354.3 L99.1,354.3 L99.6,354.2 L100.1,354.2 L100.6,354.2 L101.1,354.2 L101.6,354.2 L102.1,354.2 L102.6,354.2 L103.1,354.2 L103.6,354.2 L104.1,354.2 L104.6,354.2 L105.1,354.2 L105.6,354.2 L106.1,354.2 L106.6,354.2 L107.1,354.3 L107.6,354.3 L108.1,354.3 L108.6,354.3 L109.1,354.4 L109.6,354.4 L110.1,354.4 L110.6,354.5 L111.1,354.5 L111.6,354.6 L112.1,354.6 L112.6,354.7 L113.1,354.7 L113.6,354.8 L114.1,354.9 L114.6,354.9 L115.1,355.0 L115.6,355.1 L116.1,355.2 L116.6,355.3 L117.1,355.4 L117.6,355.5 L118.1,355.5 L118.6,355.6 L119.1,355.7 L119.6,355.8 L120.1,355.8 L120.6,355.8 L121.1,355.9 L121.6,355.9 L122.1,355.9 L122.6,355.8 L123.1,355.8 L123.6,355.7 L124.1,355.6 L124.6,355.5 L125.1,355.3 L125.6,355.2 L126.1,355.0 L126.6,354.8 L127.1,354.6 L127.6,354.4 L128.1,354.2 L128.6,354.0 L129.1,353.7 L129.6,353.5 L130.1,353.3 L130.6,353.1 L131.1,352.9 L131.6,352.6 L132.1,352.4 L132.6,352.2 L133.1,352.0 L133.6,351.7 L134.1,351.5 L134.6,351.2 L135.1,350.9 L135.6,350.7 L136.1,350.4 L136.6,350.1 L137.1,349.8 L137.6,349.4 L138.1,349.1 L138.6,348.7 L139.1,348.3 L139.6,347.9 L140.1,347.5 L140.6,347.0 L141.1,346.5 L141.6,346.0 L142.1,345.5 L142.6,345.0 L143.1,344.4 L143.6,343.8 L144.1,343.2 L144.6,342.5 L145.1,341.8 L145.6,341.1 L146.1,340.4 L146.6,339.6 L147.1,338.8 L147.6,338.0 L148.1,337.1 L148.6,336.2 L149.1,335.3 L149.6,334.4 L150.1,333.4 L150.6,332.3 L151.1,331.3 L151.6,330.2 L152.1,329.1 L152.6,327.9 L153.1,326.7 L153.6,325.5 L154.1,324.2 L154.6,322.9 L155.1,321.6 L155.6,320.2 L156.1,318.8 L156.6,317.4 L157.1,315.9 L157.6,314.4 L158.1,312.9 L158.6,311.3 L159.1,309.7 L159.6,308.0 L160.1,306.3 L160.6,304.6 L161.1,302.9 L161.6,301.1 L162.1,299.3 L162.6,297.4 L163.1,295.5 L163.6,293.6 L164.1,291.7 L164.6,289.8 L165.1,287.9 L165.6,286.0 L166.1,284.1 L166.6,282.2 L167.1,280.3 L167.6,278.5 L168.1,276.7 L168.6,274.9 L169.1,273.2 L169.6,271.5 L170.1,269.8 L170.6,268.2 L171.1,266.7 L171.6,265.2 L172.1,263.7 L172.6,262.3 L173.1,260.9 L173.6,259.6 L174.1,258.4 L174.6,257.2 L175.1,256.0 L175.6,254.9 L176.1,253.8 L176.6,252.7 L177.1,251.7 L177.6,250.7 L178.1,249.8 L178.6,248.9 L179.1,248.1 L179.6,247.2 L180.1,246.5 L180.6,245.7 L181.1,245.0 L181.6,244.3 L182.1,243.7 L182.6,243.1 L183.1,242.5 L183.6,242.0 L184.1,241.5 L184.6,241.0 L185.1,240.5 L185.6,240.1 L186.1,239.7 L186.6,239.3 L187.1,238.9 L187.6,238.5 L188.1,238.2 L188.6,237.8 L189.1,237.4 L189.6,237.1 L190.1,236.7 L190.6,236.4 L191.1,236.1 L191.6,235.9 L192.1,235.8 L192.6,235.8 L193.1,235.8 L193.6,236.0 L194.1,236.3 L194.6,236.8 L195.1,237.4 L195.6,238.1 L196.1,239.0 L196.6,240.0 L197.1,241.1 L197.6,242.3 L198.1,243.6 L198.6,244.9 L199.1,246.3 L199.6,247.7 L200.1,249.1 L200.6,250.5 L201.1,251.9 L201.6,253.4 L202.1,255.0 L202.6,256.8 L203.1,258.7 L203.6,260.8 L204.1,263.2 L204.6,265.8 L205.1,268.7 L205.6,271.9 L206.1,275.4 L206.6,279.2 L207.1,283.0 L207.6,287.0 L208.1,291.0 L208.6,295.0 L209.1,298.9 L209.6,302.7 L210.1,306.4 L210.6,309.9 L211.1,313.2 L211.6,316.3 L212.1,319.3 L212.6,322.0 L213.1,324.6 L213.6,327.0 L214.1,329.3 L214.6,331.4 L215.1,333.4 L215.6,335.3 L216.1,337.1 L216.6,338.8 L217.1,340.5 L217.6,342.0 L218.1,343.5 L218.6,345.0 L219.1,346.4 L219.6,347.8 L220.1,349.1 L220.6,350.3 L221.1,351.5 L221.6,352.6 L222.1,353.7 L222.6,354.8 L223.1,355.7 L223.6,356.7 L224.1,357.5 L224.6,358.4 L225.1,359.1 L225.6,359.8 L226.1,360.5 L226.6,361.1 L227.1,361.7 L227.6,362.2 L228.1,362.6 L228.6,363.0 L229.1,363.4 L229.6,363.7 L230.1,364.0 L230.6,364.2 L231.1,364.4 L231.6,364.6 L232.1,364.7 L232.6,364.8 L233.1,364.9 L233.6,364.9 L234.1,364.9 L234.6,364.9 L235.1,364.8 L235.6,364.7 L236.1,364.6 L236.6,364.5 L237.1,364.4 L237.6,364.3 L238.1,364.1 L238.6,364.0 L239.1,363.8 L239.6,363.6 L240.1,363.5 L240.6,363.3 L241.1,363.1 L241.6,363.0 L242.1,362.8 L242.6,362.6 L243.1,362.5 L243.6,362.4 L244.1,362.2 L244.6,362.1 L245.1,362.0 L245.6,361.9 L246.1,361.8 L246.6,361.7 L247.1,361.7 L247.6,361.7 L248.1,361.6 L248.6,361.6 L249.1,361.7 L249.6,361.7 L250.1,361.8 L250.6,361.9 L251.1,362.0 L251.6,362.1 L252.1,362.2 L252.6,362.4 L253.1,362.5 L253.6,362.7 L254.1,362.9 L254.6,363.2 L255.1,363.4 L255.6,363.6 L256.1,363.9 L256.6,364.2 L257.1,364.4 L257.6,364.7 L258.1,365.0 L258.6,365.3 L259.1,365.7 L259.6,366.0 L260.1,366.3 L260.6,366.6 L261.1,367.0 L261.6,367.3 L262.1,367.7 L262.6,368.0 L263.1,368.4 L263.6,368.7 L264.1,369.1 L264.6,369.3 L265.1,369.5" fill="none" stroke="#ee1111" stroke-width="1.5" stroke-linejoin="round" />
<text x="67.1" y="341" font-size="8.5" font-weight="normal" fill="#9b30b0" text-anchor="start" stroke="#9b30b0" stroke-width="0.3" transform="translate(0 -23.87) scale(1 1.07)" >O=C-O</text>
<line x1="83.0" y1="343.0" x2="92.8" y2="352.0" stroke="#9b30b0" stroke-width="0.9"/>
<path d="M95.0,354.0 L90.8,352.7 L93.3,349.9 Z" fill="#9b30b0"/>
<text x="128.5" y="323.7" font-size="8" font-weight="normal" fill="#b040f0" text-anchor="start" stroke="#b040f0" stroke-width="0.3" transform="translate(0 -22.66) scale(1 1.07)" >C-O</text>
<line x1="137.0" y1="326.0" x2="149.4" y2="333.5" stroke="#b040f0" stroke-width="0.9"/>
<path d="M152.0,335.0 L147.6,334.6 L149.5,331.3 Z" fill="#b040f0"/>
<text x="136.6" y="298.5" font-size="8" font-weight="normal" fill="#2a2a9a" text-anchor="start" stroke="#2a2a9a" stroke-width="0.3" transform="translate(0 -20.90) scale(1 1.07)" >C-N</text>
<line x1="146.0" y1="300.0" x2="167.7" y2="318.1" stroke="#2a2a9a" stroke-width="0.9"/>
<path d="M170.0,320.0 L165.7,318.9 L168.1,316.0 Z" fill="#2a2a9a"/>
<text x="150.4" y="265.4" font-size="8" font-weight="normal" fill="#22a022" text-anchor="start" stroke="#22a022" stroke-width="0.3" transform="translate(0 -18.58) scale(1 1.07)" >C-C</text>
<line x1="159.0" y1="267.0" x2="180.8" y2="287.9" stroke="#22a022" stroke-width="0.9"/>
<path d="M183.0,290.0 L178.8,288.6 L181.4,285.9 Z" fill="#22a022"/>
<text x="222" y="302" font-size="8" font-weight="normal" fill="#ff22ee" text-anchor="start" stroke="#ff22ee" stroke-width="0.3" transform="translate(0 -21.14) scale(1 1.07)" >C=C</text>
<line x1="225.0" y1="303.6" x2="209.6" y2="327.1" stroke="#ff22ee" stroke-width="0.9"/>
<path d="M208.0,329.6 L208.6,325.2 L211.8,327.3 Z" fill="#ff22ee"/>
<text x="222" y="351.6" font-size="8" font-weight="normal" fill="#2030f0" text-anchor="start" stroke="#2030f0" stroke-width="0.3" transform="translate(0 -24.61) scale(1 1.07)" >Ti-C-O</text>
<line x1="236.0" y1="353.0" x2="238.9" y2="360.7" stroke="#2030f0" stroke-width="0.9"/>
<path d="M240.0,363.5 L236.8,360.4 L240.4,359.1 Z" fill="#2030f0"/>
<text x="247" y="343.4" font-size="8" font-weight="normal" fill="#22ee22" text-anchor="start" stroke="#22ee22" stroke-width="0.3" transform="translate(0 -24.04) scale(1 1.07)" >C=Ti</text>
<line x1="255.0" y1="345.0" x2="250.0" y2="359.2" stroke="#22ee22" stroke-width="0.9"/>
<path d="M249.0,362.0 L248.5,357.6 L252.1,358.9 Z" fill="#22ee22"/>
<text x="269.3" y="230" font-size="18" font-weight="bold" fill="#000" text-anchor="start" >(d)</text>
<rect x="308.4" y="215.6" width="237.4" height="176.9" fill="none" stroke="#333333" stroke-width="1.3"/>
<line x1="308.4" y1="303.8" x2="545.8" y2="303.8" stroke="#4a4a4a" stroke-width="1.3"/>
<line x1="320.3" y1="392.5" x2="320.3" y2="395.5" stroke="#333333" stroke-width="1"/>
<text x="320.3" y="406.3" font-size="8.8" font-weight="bold" fill="#000" text-anchor="middle" >2</text>
<line x1="344.0" y1="392.5" x2="344.0" y2="395.5" stroke="#333333" stroke-width="1"/>
<text x="344.0" y="406.3" font-size="8.8" font-weight="bold" fill="#000" text-anchor="middle" >3</text>
<line x1="367.8" y1="392.5" x2="367.8" y2="395.5" stroke="#333333" stroke-width="1"/>
<text x="367.8" y="406.3" font-size="8.8" font-weight="bold" fill="#000" text-anchor="middle" >4</text>
<line x1="391.5" y1="392.5" x2="391.5" y2="395.5" stroke="#333333" stroke-width="1"/>
<text x="391.5" y="406.3" font-size="8.8" font-weight="bold" fill="#000" text-anchor="middle" >5</text>
<line x1="415.2" y1="392.5" x2="415.2" y2="395.5" stroke="#333333" stroke-width="1"/>
<text x="415.2" y="406.3" font-size="8.8" font-weight="bold" fill="#000" text-anchor="middle" >6</text>
<line x1="439.0" y1="392.5" x2="439.0" y2="395.5" stroke="#333333" stroke-width="1"/>
<text x="439.0" y="406.3" font-size="8.8" font-weight="bold" fill="#000" text-anchor="middle" >7</text>
<line x1="462.7" y1="392.5" x2="462.7" y2="395.5" stroke="#333333" stroke-width="1"/>
<text x="462.7" y="406.3" font-size="8.8" font-weight="bold" fill="#000" text-anchor="middle" >8</text>
<line x1="486.4" y1="392.5" x2="486.4" y2="395.5" stroke="#333333" stroke-width="1"/>
<text x="486.4" y="406.3" font-size="8.8" font-weight="bold" fill="#000" text-anchor="middle" >9</text>
<line x1="510.2" y1="392.5" x2="510.2" y2="395.5" stroke="#333333" stroke-width="1"/>
<text x="510.2" y="406.3" font-size="8.8" font-weight="bold" fill="#000" text-anchor="middle" >10</text>
<line x1="533.9" y1="392.5" x2="533.9" y2="395.5" stroke="#333333" stroke-width="1"/>
<text x="533.9" y="406.3" font-size="8.8" font-weight="bold" fill="#000" text-anchor="middle" >11</text>
<line x1="304.9" y1="385.1" x2="308.4" y2="385.1" stroke="#333333" stroke-width="1"/>
<text x="301.6" y="387.6" font-size="8.8" font-weight="bold" fill="#000" text-anchor="end" >-60</text>
<line x1="304.9" y1="358.0" x2="308.4" y2="358.0" stroke="#333333" stroke-width="1"/>
<text x="301.6" y="360.5" font-size="8.8" font-weight="bold" fill="#000" text-anchor="end" >-40</text>
<line x1="304.9" y1="330.9" x2="308.4" y2="330.9" stroke="#333333" stroke-width="1"/>
<text x="301.6" y="333.4" font-size="8.8" font-weight="bold" fill="#000" text-anchor="end" >-20</text>
<line x1="304.9" y1="303.8" x2="308.4" y2="303.8" stroke="#333333" stroke-width="1"/>
<text x="301.6" y="306.3" font-size="8.8" font-weight="bold" fill="#000" text-anchor="end" >0</text>
<line x1="304.9" y1="276.7" x2="308.4" y2="276.7" stroke="#333333" stroke-width="1"/>
<text x="301.6" y="279.2" font-size="8.8" font-weight="bold" fill="#000" text-anchor="end" >20</text>
<line x1="304.9" y1="249.6" x2="308.4" y2="249.6" stroke="#333333" stroke-width="1"/>
<text x="301.6" y="252.1" font-size="8.8" font-weight="bold" fill="#000" text-anchor="end" >40</text>
<line x1="304.9" y1="222.5" x2="308.4" y2="222.5" stroke="#333333" stroke-width="1"/>
<text x="301.6" y="225.0" font-size="8.8" font-weight="bold" fill="#000" text-anchor="end" >60</text>
<text x="427.1" y="418.3" font-size="10.6" font-weight="bold" fill="#000" text-anchor="middle" >pH</text>
<text transform="translate(282.2,304.9) rotate(-90)" font-size="10.85" font-weight="bold" text-anchor="middle">Zeta potential (mV)</text>
<defs><radialGradient id="gg" cx="0.4" cy="0.35" r="0.65"><stop offset="0" stop-color="#d8f5d8"/><stop offset="0.3" stop-color="#2aa52a"/><stop offset="1" stop-color="#0a560a"/></radialGradient><radialGradient id="rg" cx="0.4" cy="0.35" r="0.65"><stop offset="0" stop-color="#ffe0e0"/><stop offset="0.3" stop-color="#ff2a2a"/><stop offset="1" stop-color="#a80000"/></radialGradient></defs>
<path d="M320.3,313.4 L344.0,335.7 L367.8,342.0 L391.5,345.6 L415.2,358.3 L439.0,362.6 L462.7,365.9 L486.4,373.6 L510.2,383.1 L533.9,376.2" fill="none" stroke="#1f9a1f" stroke-width="1.2" stroke-linejoin="round" />
<circle cx="320.3" cy="313.4" r="2.95" fill="url(#gg)"/>
<circle cx="344.0" cy="335.7" r="2.95" fill="url(#gg)"/>
<circle cx="367.8" cy="342.0" r="2.95" fill="url(#gg)"/>
<circle cx="391.5" cy="345.6" r="2.95" fill="url(#gg)"/>
<circle cx="415.2" cy="358.3" r="2.95" fill="url(#gg)"/>
<circle cx="439.0" cy="362.6" r="2.95" fill="url(#gg)"/>
<circle cx="462.7" cy="365.9" r="2.95" fill="url(#gg)"/>
<circle cx="486.4" cy="373.6" r="2.95" fill="url(#gg)"/>
<circle cx="510.2" cy="383.1" r="2.95" fill="url(#gg)"/>
<circle cx="533.9" cy="376.2" r="2.95" fill="url(#gg)"/>
<path d="M320.3,253.5 L344.0,258.8 L367.8,280.8 L391.5,305.2 L415.2,329.3 L439.0,340.0 L462.7,339.3 L486.4,341.2 L510.2,349.1 L533.9,351.4" fill="none" stroke="#ff2424" stroke-width="1.2" stroke-linejoin="round" />
<circle cx="320.3" cy="253.5" r="2.95" fill="url(#rg)"/>
<circle cx="344.0" cy="258.8" r="2.95" fill="url(#rg)"/>
<circle cx="367.8" cy="280.8" r="2.95" fill="url(#rg)"/>
<circle cx="391.5" cy="305.2" r="2.95" fill="url(#rg)"/>
<circle cx="415.2" cy="329.3" r="2.95" fill="url(#rg)"/>
<circle cx="439.0" cy="340.0" r="2.95" fill="url(#rg)"/>
<circle cx="462.7" cy="339.3" r="2.95" fill="url(#rg)"/>
<circle cx="486.4" cy="341.2" r="2.95" fill="url(#rg)"/>
<circle cx="510.2" cy="349.1" r="2.95" fill="url(#rg)"/>
<circle cx="533.9" cy="351.4" r="2.95" fill="url(#rg)"/>
<line x1="466" y1="227" x2="485.5" y2="227" stroke="#1f9a1f" stroke-width="1.2"/>
<circle cx="475.5" cy="227" r="2.95" fill="url(#gg)"/>
<line x1="466" y1="240.2" x2="485.5" y2="240.2" stroke="#ff2424" stroke-width="1.2"/>
<circle cx="475.5" cy="240.2" r="2.95" fill="url(#rg)"/>
<text x="487.8" y="230.4" font-size="8.6" font-weight="normal" fill="#222" stroke="#222" stroke-width="0.3" text-anchor="start" transform="translate(0 -16.13) scale(1 1.07)" ><tspan dy="0.00">Ti</tspan><tspan font-size="4.3" dy="2.60">3</tspan><tspan dy="-2.60">C</tspan><tspan font-size="4.3" dy="2.60">2</tspan><tspan dy="-2.60">T</tspan><tspan font-size="4.3" dy="2.60">x</tspan></text>
<text x="487.8" y="242.7" font-size="8.6" font-weight="normal" fill="#222" stroke="#222" stroke-width="0.3" text-anchor="start" transform="translate(0 -16.99) scale(1 1.07)" ><tspan dy="0.00">Ti</tspan><tspan font-size="4.3" dy="2.60">3</tspan><tspan dy="-2.60">C</tspan><tspan font-size="4.3" dy="2.60">2</tspan><tspan dy="-2.60">T</tspan><tspan font-size="4.3" dy="2.60">x</tspan><tspan dy="-2.60">/PmPD</tspan></text></svg></body></html>
